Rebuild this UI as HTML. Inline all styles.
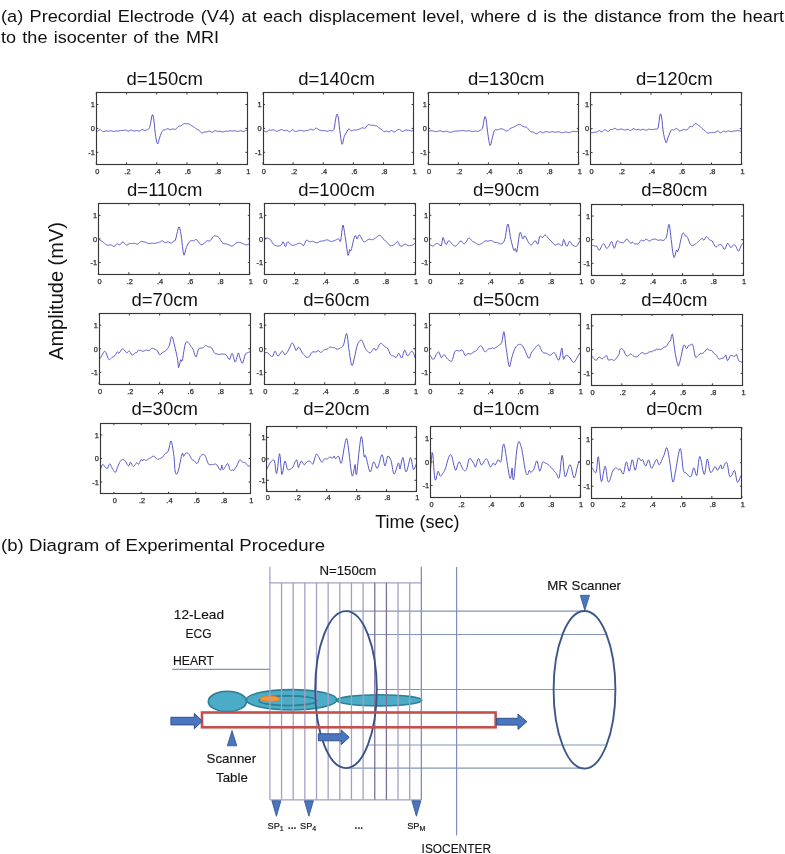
<!DOCTYPE html><html><head><meta charset="utf-8"><title>ECG figure</title><style>
html,body{margin:0;padding:0;background:#fff;}body{width:785px;height:854px;overflow:hidden;position:relative;}
svg{position:absolute;left:0;top:0;}
text{font-family:"Liberation Sans", Arial, Helvetica, sans-serif;}
.tk{font-size:7.4px;fill:#2e2e2e;stroke:#2e2e2e;stroke-width:0.25px;}
.ttl{font-size:18.5px;fill:#111;}
.cal{font-size:12.5px;fill:#262626;}
</style></head><body>
<svg width="785" height="854" viewBox="0 0 785 854">
<rect width="785" height="854" fill="#fff"/>
<text x="1" y="21.6" textLength="783" lengthAdjust="spacingAndGlyphs" style="font-size:16.7px;word-spacing:1.2px;fill:#111">(a) Precordial Electrode (V4) at each displacement level, where d is the distance from the heart</text>
<text x="1" y="42.6" textLength="218" lengthAdjust="spacingAndGlyphs" style="font-size:16.7px;word-spacing:1.2px;fill:#111">to the isocenter of the MRI</text>
<text transform="translate(63.3,291) rotate(-90)" text-anchor="middle" style="font-size:20px;fill:#111">Amplitude (mV)</text>
<text x="417.4" y="527.9" text-anchor="middle" style="font-size:18px;fill:#111">Time (sec)</text>
<text class="ttl" x="164.7" y="84.8" text-anchor="middle">d=150cm</text>
<clipPath id="c00"><rect x="96.30" y="92.50" width="151.10" height="71.80"/></clipPath>
<path clip-path="url(#c00)" d="M96.3,131.1 L96.7,131.2 L97.2,131.1 L97.9,130.8 L98.6,130.4 L99.3,129.9 L99.8,129.7 L100.3,129.7 L100.9,130.0 L101.5,130.5 L102.1,131.0 L102.7,131.5 L103.3,131.7 L103.9,131.7 L104.4,131.5 L105.0,131.2 L105.6,131.0 L106.2,130.9 L106.8,131.0 L107.4,131.1 L107.9,131.1 L108.4,131.1 L109.0,131.0 L109.5,131.0 L109.9,130.9 L110.5,130.8 L111.4,130.8 L111.9,130.9 L112.4,131.1 L113.0,131.3 L113.6,131.4 L114.2,131.4 L114.9,131.3 L115.6,131.1 L116.3,131.0 L117.0,130.9 L117.7,131.0 L118.3,131.0 L119.0,130.9 L119.5,130.8 L120.1,130.6 L120.7,130.5 L121.3,130.4 L121.9,130.4 L122.5,130.4 L123.0,130.4 L123.6,130.4 L124.2,130.3 L124.8,130.2 L125.4,130.1 L125.9,130.2 L126.5,130.3 L127.1,130.6 L127.8,130.8 L128.4,131.0 L129.0,130.9 L129.7,130.7 L130.3,130.4 L130.9,130.1 L131.6,130.1 L132.2,130.3 L132.8,130.6 L133.4,130.9 L134.1,131.0 L134.7,131.0 L135.4,130.8 L136.0,130.6 L136.6,130.5 L137.3,130.6 L137.9,130.9 L138.6,131.1 L139.2,131.1 L139.8,130.9 L140.5,130.5 L141.1,130.1 L141.6,129.7 L142.3,129.6 L143.0,129.7 L143.7,130.1 L144.3,130.4 L145.0,130.5 L145.6,130.4 L146.2,130.2 L146.7,129.9 L147.2,129.7 L147.7,129.5 L148.5,129.1 L149.0,128.6 L149.5,127.7 L149.9,126.3 L150.5,123.7 L151.1,120.2 L151.7,117.0 L152.2,115.0 L152.8,114.7 L153.2,116.1 L153.7,118.7 L154.2,122.9 L154.7,128.3 L155.2,133.2 L155.7,136.5 L156.3,139.9 L156.9,142.5 L157.5,143.9 L158.0,143.4 L158.6,141.6 L159.1,139.2 L159.8,137.1 L160.3,135.7 L160.9,134.2 L161.5,132.7 L162.2,131.5 L162.8,130.6 L163.4,130.1 L164.0,129.9 L164.6,129.9 L165.2,129.8 L165.8,129.5 L166.4,129.1 L167.0,128.8 L167.6,128.7 L168.2,128.8 L168.8,129.0 L169.4,129.4 L170.0,129.6 L170.6,129.7 L171.2,129.5 L171.9,129.2 L172.4,128.9 L173.0,128.9 L173.6,129.1 L174.2,129.3 L174.9,129.5 L175.3,129.4 L175.8,129.1 L176.3,128.7 L176.9,128.1 L177.4,127.4 L178.0,126.7 L178.7,126.3 L179.4,126.1 L179.9,126.0 L180.5,126.0 L181.2,125.7 L181.8,125.3 L182.5,124.7 L183.2,124.1 L183.9,123.7 L184.6,123.6 L185.2,123.6 L185.8,123.7 L186.4,123.8 L187.0,123.8 L187.7,123.8 L188.3,123.8 L188.8,123.9 L189.3,124.1 L189.8,124.5 L190.3,124.9 L190.9,125.3 L191.5,125.7 L192.0,126.0 L192.6,126.2 L193.2,126.6 L193.9,127.0 L194.5,127.5 L195.2,128.0 L195.8,128.5 L196.4,128.9 L197.0,129.1 L197.5,129.4 L198.3,129.7 L198.9,130.2 L199.6,130.9 L200.2,131.7 L200.8,132.4 L201.4,132.8 L202.1,132.9 L202.6,132.8 L203.1,132.6 L203.5,132.3 L204.0,132.1 L204.5,131.9 L205.0,131.8 L205.7,131.9 L206.6,131.9 L207.0,131.8 L207.5,131.6 L208.1,131.4 L208.6,131.2 L209.2,131.0 L209.8,131.1 L210.4,131.5 L211.1,131.9 L211.7,132.2 L212.4,132.2 L213.0,132.0 L213.7,131.5 L214.3,131.1 L214.9,130.8 L215.5,130.7 L216.1,130.9 L216.7,131.1 L217.2,131.3 L217.9,131.4 L218.6,131.4 L219.3,131.3 L219.9,131.2 L220.5,131.3 L221.1,131.5 L221.7,131.7 L222.3,131.8 L222.9,131.9 L223.5,131.8 L224.1,131.6 L224.7,131.4 L225.3,131.2 L225.9,131.2 L226.5,131.2 L227.1,131.3 L227.6,131.3 L228.2,131.2 L228.8,131.1 L229.4,130.9 L230.0,130.8 L230.5,130.8 L231.1,130.8 L231.7,130.9 L232.3,131.0 L232.9,131.0 L233.5,130.9 L234.2,130.8 L234.8,130.8 L235.4,130.9 L236.1,131.1 L236.7,131.3 L237.3,131.5 L238.0,131.5 L238.6,131.3 L239.2,131.0 L239.8,130.7 L240.4,130.6 L241.1,130.7 L241.7,131.0 L242.4,131.4 L243.1,131.6 L243.8,131.5 L244.4,131.2 L245.0,130.8 L245.6,130.4 L246.2,130.2 L246.7,130.2 L247.1,130.2 L247.4,130.2" fill="none" stroke="#5757c6" stroke-width="1.0" stroke-linejoin="round"/>
<rect x="96.50" y="92.50" width="151.00" height="72.00" fill="none" stroke="#363636" stroke-width="1.15"/>
<path d="M96.30,164.30v-2M96.30,92.50v2M126.52,164.30v-2M126.52,92.50v2M156.74,164.30v-2M156.74,92.50v2M186.96,164.30v-2M186.96,92.50v2M217.18,164.30v-2M217.18,92.50v2M247.40,164.30v-2M247.40,92.50v2M96.30,152.33h2M247.40,152.33h-2M96.30,128.40h2M247.40,128.40h-2M96.30,104.47h2M247.40,104.47h-2" stroke="#3a3a3a" stroke-width="1" fill="none"/>
<text class="tk" x="97.20" y="173.60" text-anchor="middle">0</text>
<text class="tk" x="127.42" y="173.60" text-anchor="middle">.2</text>
<text class="tk" x="157.64" y="173.60" text-anchor="middle">.4</text>
<text class="tk" x="187.86" y="173.60" text-anchor="middle">.6</text>
<text class="tk" x="218.08" y="173.60" text-anchor="middle">.8</text>
<text class="tk" x="248.30" y="173.60" text-anchor="middle">1</text>
<text class="tk" x="94.90" y="107.17" text-anchor="end">1</text>
<text class="tk" x="94.90" y="131.10" text-anchor="end">0</text>
<text class="tk" x="94.90" y="155.03" text-anchor="end">-1</text>
<text class="ttl" x="336.5" y="84.8" text-anchor="middle">d=140cm</text>
<clipPath id="c01"><rect x="263.00" y="92.50" width="150.60" height="71.80"/></clipPath>
<path clip-path="url(#c01)" d="M263.0,130.9 L263.3,130.8 L263.8,130.9 L264.4,131.1 L265.0,131.5 L265.6,131.8 L266.3,131.9 L266.9,131.6 L267.5,131.2 L268.1,130.7 L268.6,130.3 L269.2,130.1 L269.8,130.1 L270.3,130.2 L270.9,130.3 L271.5,130.2 L272.0,130.1 L272.6,129.9 L273.2,129.8 L273.7,129.8 L274.3,130.1 L274.9,130.5 L275.4,130.9 L276.0,131.2 L276.6,131.3 L277.1,131.2 L277.7,131.0 L278.2,130.7 L278.8,130.5 L279.4,130.3 L279.9,130.0 L280.5,129.8 L281.1,129.7 L281.6,129.6 L282.1,129.7 L282.6,129.8 L283.1,130.1 L283.7,130.4 L284.2,130.6 L284.9,130.7 L285.6,130.6 L286.1,130.4 L286.6,130.3 L287.1,130.4 L287.7,130.6 L288.3,131.1 L288.9,131.6 L289.5,131.8 L290.1,131.7 L290.7,131.2 L291.3,130.6 L291.9,130.0 L292.5,129.7 L293.1,129.9 L293.7,130.3 L294.4,130.9 L295.0,131.4 L295.6,131.6 L296.3,131.5 L296.9,131.3 L297.5,131.0 L298.1,130.8 L298.8,130.6 L299.4,130.5 L300.0,130.4 L300.6,130.4 L301.3,130.4 L301.9,130.6 L302.5,130.8 L303.2,131.0 L303.8,131.1 L304.4,131.0 L305.0,130.8 L305.7,130.6 L306.3,130.4 L306.9,130.4 L307.6,130.4 L308.2,130.4 L308.8,130.2 L309.4,129.8 L310.1,129.4 L310.7,129.2 L311.3,129.3 L311.9,129.5 L312.6,129.9 L313.2,130.0 L313.8,129.8 L314.5,129.4 L315.1,128.8 L315.7,128.3 L316.3,128.1 L316.9,128.3 L317.5,128.7 L318.1,129.2 L318.7,129.7 L319.3,130.0 L319.9,130.2 L320.5,130.3 L321.0,130.4 L321.6,130.6 L322.2,130.7 L322.7,130.7 L323.2,130.7 L323.9,130.6 L324.6,130.6 L325.2,130.6 L325.8,130.8 L326.4,131.1 L327.0,131.3 L327.6,131.3 L328.2,131.1 L328.7,130.9 L329.3,130.6 L330.0,130.5 L330.8,130.6 L331.5,130.9 L332.1,130.9 L332.8,130.7 L333.3,130.2 L333.8,129.5 L334.5,127.0 L334.9,123.9 L335.3,121.0 L335.8,118.3 L336.3,115.7 L336.8,114.3 L337.3,114.3 L337.8,115.5 L338.3,117.6 L338.8,121.2 L339.2,125.8 L339.8,130.6 L340.3,134.5 L340.9,138.8 L341.5,142.4 L342.1,144.3 L342.6,143.7 L343.1,141.5 L343.7,138.6 L344.3,136.3 L344.9,135.1 L345.5,134.0 L346.2,133.0 L346.8,132.0 L347.3,131.0 L348.1,129.4 L348.8,128.9 L349.3,129.1 L349.9,129.6 L350.5,130.2 L351.1,130.7 L351.9,130.8 L352.3,130.6 L352.8,130.4 L353.4,130.1 L353.9,130.0 L354.5,130.0 L355.1,130.0 L355.7,130.1 L356.4,130.0 L356.9,129.8 L357.5,129.6 L358.1,129.4 L358.7,129.3 L359.3,129.1 L359.9,128.9 L360.5,128.7 L361.2,128.3 L361.8,128.0 L362.4,127.8 L363.0,127.8 L363.6,128.1 L364.3,128.3 L365.0,128.2 L365.6,127.8 L366.2,127.0 L366.8,126.1 L367.4,125.3 L367.9,124.8 L368.4,124.6 L369.2,124.7 L369.8,124.9 L370.3,125.1 L370.8,125.2 L371.4,125.3 L371.9,125.2 L372.4,125.2 L372.9,125.2 L373.5,125.3 L374.1,125.4 L374.7,125.5 L375.3,125.7 L376.0,125.8 L376.5,125.9 L377.1,126.2 L377.7,126.7 L378.4,127.3 L379.1,127.8 L379.7,128.3 L380.3,128.7 L380.9,129.0 L381.5,129.4 L382.0,129.8 L382.7,130.5 L383.3,131.1 L383.8,131.6 L384.3,131.7 L385.0,131.6 L385.6,131.3 L386.2,131.0 L386.8,131.1 L387.5,131.4 L388.2,131.7 L388.8,131.9 L389.5,131.6 L390.1,131.2 L390.6,130.8 L391.2,130.6 L391.8,130.6 L392.3,130.8 L392.9,131.3 L393.5,131.7 L394.0,132.0 L394.6,132.0 L395.2,131.7 L395.7,131.2 L396.3,130.7 L396.8,130.2 L397.4,129.9 L398.0,129.6 L398.5,129.5 L399.1,129.5 L399.7,129.7 L400.2,130.0 L400.8,130.4 L401.4,130.9 L401.9,131.2 L402.5,131.4 L403.1,131.4 L403.7,131.0 L404.4,130.5 L405.1,130.2 L405.7,130.0 L406.4,130.1 L407.0,130.2 L407.6,130.2 L408.3,130.2 L408.9,130.2 L409.5,130.4 L410.0,130.6 L410.6,130.8 L411.2,130.9 L411.9,130.9 L412.6,130.7 L413.2,130.2 L413.6,129.7" fill="none" stroke="#5757c6" stroke-width="1.0" stroke-linejoin="round"/>
<rect x="263.50" y="92.50" width="150.00" height="72.00" fill="none" stroke="#363636" stroke-width="1.15"/>
<path d="M263.00,164.30v-2M263.00,92.50v2M293.12,164.30v-2M293.12,92.50v2M323.24,164.30v-2M323.24,92.50v2M353.36,164.30v-2M353.36,92.50v2M383.48,164.30v-2M383.48,92.50v2M413.60,164.30v-2M413.60,92.50v2M263.00,152.33h2M413.60,152.33h-2M263.00,128.40h2M413.60,128.40h-2M263.00,104.47h2M413.60,104.47h-2" stroke="#3a3a3a" stroke-width="1" fill="none"/>
<text class="tk" x="263.90" y="173.60" text-anchor="middle">0</text>
<text class="tk" x="294.02" y="173.60" text-anchor="middle">.2</text>
<text class="tk" x="324.14" y="173.60" text-anchor="middle">.4</text>
<text class="tk" x="354.26" y="173.60" text-anchor="middle">.6</text>
<text class="tk" x="384.38" y="173.60" text-anchor="middle">.8</text>
<text class="tk" x="414.50" y="173.60" text-anchor="middle">1</text>
<text class="tk" x="261.60" y="107.17" text-anchor="end">1</text>
<text class="tk" x="261.60" y="131.10" text-anchor="end">0</text>
<text class="tk" x="261.60" y="155.03" text-anchor="end">-1</text>
<text class="ttl" x="506.2" y="84.8" text-anchor="middle">d=130cm</text>
<clipPath id="c02"><rect x="428.20" y="92.50" width="150.60" height="71.80"/></clipPath>
<path clip-path="url(#c02)" d="M428.2,131.2 L428.6,131.1 L429.0,131.0 L429.6,130.9 L430.2,130.8 L430.8,130.8 L431.5,130.7 L432.2,130.8 L432.9,130.9 L433.7,131.1 L434.4,131.3 L435.1,131.5 L435.7,131.6 L436.4,131.6 L437.0,131.6 L437.6,131.4 L438.2,131.2 L438.9,131.0 L439.5,130.8 L440.1,130.8 L440.8,130.9 L441.4,131.1 L442.0,131.4 L442.6,131.6 L443.3,131.8 L443.9,131.8 L444.5,131.7 L445.1,131.5 L445.8,131.3 L446.4,131.2 L447.0,131.2 L447.7,131.4 L448.3,131.7 L448.9,132.0 L449.5,132.2 L450.2,132.3 L450.8,132.3 L451.4,132.2 L451.9,132.0 L452.5,131.8 L453.1,131.6 L453.7,131.4 L454.3,131.3 L454.8,131.2 L455.4,131.1 L456.0,131.0 L456.6,131.0 L457.2,131.0 L457.7,131.0 L458.3,131.0 L458.9,131.0 L459.6,130.9 L460.2,130.9 L460.8,130.7 L461.5,130.6 L462.1,130.4 L462.7,130.4 L463.3,130.4 L464.0,130.6 L464.6,130.8 L465.2,131.0 L465.8,131.1 L466.5,131.1 L467.1,131.1 L467.8,130.9 L468.4,130.8 L469.1,130.7 L469.7,130.8 L470.3,131.0 L471.0,131.2 L471.6,131.4 L472.2,131.5 L472.8,131.5 L473.4,131.4 L474.1,131.2 L474.7,131.1 L475.4,131.0 L476.0,131.1 L476.7,131.2 L477.3,131.4 L477.9,131.4 L478.4,131.3 L478.9,131.1 L479.4,130.8 L480.2,130.3 L480.9,130.0 L481.4,129.7 L481.9,129.2 L482.4,128.3 L483.1,125.9 L483.6,122.4 L484.2,119.1 L484.7,116.9 L485.2,116.5 L485.7,117.7 L486.2,119.9 L486.7,123.4 L487.1,128.0 L487.7,132.6 L488.2,136.2 L488.8,140.1 L489.4,143.5 L489.9,145.4 L490.5,145.2 L491.1,143.3 L491.6,140.7 L492.2,138.2 L492.8,136.1 L493.3,133.8 L493.8,131.8 L494.5,130.4 L495.0,129.8 L495.6,129.6 L496.2,129.7 L496.9,129.8 L497.5,129.9 L498.1,129.7 L498.7,129.5 L499.3,129.2 L499.9,129.0 L500.5,128.9 L501.1,128.8 L501.7,128.9 L502.3,129.0 L502.9,129.2 L503.5,129.4 L504.1,129.8 L504.6,130.2 L505.2,130.6 L505.8,131.0 L506.5,131.0 L507.0,130.9 L507.5,130.7 L508.0,130.4 L508.5,129.9 L509.0,129.5 L509.7,129.0 L510.3,128.5 L511.0,128.2 L511.6,127.9 L512.1,127.7 L512.8,127.5 L513.4,127.2 L514.1,126.9 L514.8,126.6 L515.5,126.2 L516.2,125.8 L516.8,125.4 L517.4,125.1 L518.0,124.8 L518.6,124.5 L519.3,124.4 L519.9,124.4 L520.4,124.6 L520.9,124.9 L521.4,125.3 L521.9,125.7 L522.5,126.2 L523.1,126.5 L523.6,126.7 L524.2,126.9 L524.8,126.9 L525.5,126.9 L526.1,127.0 L526.7,127.3 L527.4,127.9 L528.0,128.6 L528.6,129.5 L529.1,130.2 L529.8,131.0 L530.5,131.5 L531.1,131.8 L531.8,131.9 L532.4,131.9 L533.0,132.0 L533.6,132.3 L534.2,132.6 L534.7,133.0 L535.2,133.4 L535.7,133.7 L536.2,133.9 L536.8,133.8 L537.4,133.5 L538.1,132.9 L538.6,132.5 L539.1,132.1 L539.7,131.8 L540.3,131.8 L540.9,131.9 L541.5,132.2 L542.1,132.6 L542.7,132.8 L543.4,132.8 L544.0,132.6 L544.6,132.2 L545.1,131.9 L545.7,131.7 L546.3,131.5 L547.0,131.6 L547.6,131.8 L548.2,132.0 L548.8,132.2 L549.4,132.3 L549.9,132.2 L550.5,132.1 L551.1,131.9 L551.7,131.8 L552.3,131.7 L552.9,131.7 L553.5,131.9 L554.1,132.1 L554.7,132.2 L555.3,132.3 L555.9,132.2 L556.5,132.1 L557.1,131.9 L557.7,131.8 L558.3,131.7 L558.9,131.7 L559.5,131.9 L560.1,132.1 L560.6,132.3 L561.2,132.6 L561.8,132.7 L562.4,132.8 L563.1,132.7 L563.7,132.5 L564.3,132.3 L564.9,132.2 L565.5,132.0 L566.1,132.0 L566.8,132.1 L567.4,132.3 L568.1,132.5 L568.7,132.6 L569.4,132.6 L570.0,132.5 L570.6,132.2 L571.3,131.9 L571.9,131.6 L572.5,131.4 L573.2,131.3 L573.8,131.3 L574.5,131.5 L575.2,131.7 L575.8,131.7 L576.5,131.6 L577.0,131.4 L577.6,131.1 L578.1,130.8 L578.5,130.6 L578.8,130.5" fill="none" stroke="#5757c6" stroke-width="1.0" stroke-linejoin="round"/>
<rect x="428.50" y="92.50" width="150.00" height="72.00" fill="none" stroke="#363636" stroke-width="1.15"/>
<path d="M428.20,164.30v-2M428.20,92.50v2M458.32,164.30v-2M458.32,92.50v2M488.44,164.30v-2M488.44,92.50v2M518.56,164.30v-2M518.56,92.50v2M548.68,164.30v-2M548.68,92.50v2M578.80,164.30v-2M578.80,92.50v2M428.20,152.33h2M578.80,152.33h-2M428.20,128.40h2M578.80,128.40h-2M428.20,104.47h2M578.80,104.47h-2" stroke="#3a3a3a" stroke-width="1" fill="none"/>
<text class="tk" x="429.10" y="173.60" text-anchor="middle">0</text>
<text class="tk" x="459.22" y="173.60" text-anchor="middle">.2</text>
<text class="tk" x="489.34" y="173.60" text-anchor="middle">.4</text>
<text class="tk" x="519.46" y="173.60" text-anchor="middle">.6</text>
<text class="tk" x="549.58" y="173.60" text-anchor="middle">.8</text>
<text class="tk" x="579.70" y="173.60" text-anchor="middle">1</text>
<text class="tk" x="426.80" y="107.17" text-anchor="end">1</text>
<text class="tk" x="426.80" y="131.10" text-anchor="end">0</text>
<text class="tk" x="426.80" y="155.03" text-anchor="end">-1</text>
<text class="ttl" x="674.3" y="84.8" text-anchor="middle">d=120cm</text>
<clipPath id="c03"><rect x="590.60" y="92.80" width="151.10" height="71.70"/></clipPath>
<path clip-path="url(#c03)" d="M590.6,132.8 L591.0,132.8 L591.5,132.7 L592.2,132.7 L592.9,132.6 L593.6,132.4 L594.1,132.3 L594.7,132.3 L595.3,132.2 L595.9,132.2 L596.5,132.2 L597.1,131.9 L597.7,131.5 L598.2,131.1 L598.9,130.7 L599.5,130.6 L600.0,130.8 L600.6,131.3 L601.2,131.7 L601.8,131.9 L602.3,131.8 L602.9,131.3 L603.5,130.6 L604.2,129.9 L604.7,129.7 L605.3,129.7 L605.9,130.1 L606.5,130.6 L607.1,131.1 L607.7,131.4 L608.2,131.4 L608.7,131.2 L609.3,130.7 L609.8,130.2 L610.2,129.7 L610.8,129.4 L611.8,129.6 L612.2,129.6 L612.7,129.4 L613.2,129.1 L613.8,128.7 L614.4,128.4 L615.0,128.3 L615.7,128.6 L616.3,129.1 L617.0,129.5 L617.7,129.8 L618.4,129.8 L619.0,129.6 L619.6,129.3 L620.2,129.1 L620.8,129.0 L621.5,129.1 L622.2,129.2 L622.8,129.4 L623.5,129.6 L624.1,129.9 L624.7,130.0 L625.3,130.0 L625.9,129.8 L626.5,129.6 L627.1,129.3 L627.8,129.2 L628.4,129.4 L629.0,129.9 L629.6,130.3 L630.3,130.6 L630.9,130.5 L631.5,130.1 L632.2,129.4 L632.8,128.9 L633.4,128.6 L634.0,128.8 L634.7,129.2 L635.3,129.6 L635.9,129.8 L636.6,129.8 L637.2,129.6 L637.8,129.4 L638.4,129.3 L639.1,129.5 L639.7,129.8 L640.3,130.0 L641.0,130.0 L641.6,129.8 L642.2,129.5 L642.9,129.3 L643.5,129.3 L644.1,129.5 L644.7,129.8 L645.3,130.1 L645.9,130.2 L646.5,130.1 L647.1,129.9 L647.7,129.6 L648.2,129.3 L648.8,129.3 L649.4,129.3 L650.0,129.4 L650.5,129.5 L651.0,129.5 L651.7,129.6 L652.4,129.6 L653.1,129.6 L653.8,129.4 L654.4,129.3 L655.1,129.1 L655.7,129.0 L656.2,129.0 L656.7,129.1 L657.1,129.2 L657.9,128.6 L658.3,127.0 L658.6,124.8 L659.1,121.4 L659.6,117.2 L660.1,114.4 L660.9,114.1 L661.6,117.0 L662.1,120.8 L662.5,125.8 L663.1,131.0 L663.7,134.2 L664.3,137.3 L665.0,139.9 L665.6,141.8 L666.2,142.8 L666.7,142.4 L667.1,140.3 L667.7,138.1 L668.2,137.0 L668.8,135.6 L669.4,134.0 L670.1,132.3 L670.7,130.9 L671.3,130.1 L671.9,129.8 L672.5,129.8 L673.1,130.0 L673.7,130.0 L674.3,129.8 L674.9,129.3 L675.5,128.8 L676.1,128.5 L676.7,128.4 L677.3,128.8 L677.9,129.4 L678.4,130.1 L679.0,130.7 L679.7,130.9 L680.2,130.8 L680.8,130.7 L681.3,130.5 L681.9,130.2 L682.5,129.9 L683.1,129.7 L683.7,129.5 L684.3,129.4 L684.8,129.5 L685.3,129.7 L685.8,129.9 L686.4,130.0 L686.9,129.9 L687.5,129.5 L688.1,128.7 L688.8,127.8 L689.3,127.1 L689.9,126.7 L690.6,126.5 L691.2,126.6 L691.9,126.7 L692.6,126.4 L693.3,125.6 L694.0,124.7 L694.6,124.0 L695.3,123.6 L695.8,123.6 L696.4,123.9 L697.1,124.3 L697.7,124.7 L698.2,125.1 L698.7,125.3 L699.2,125.7 L699.7,126.1 L700.3,126.6 L700.9,127.2 L701.5,127.8 L702.0,128.4 L702.7,129.0 L703.3,129.4 L703.9,129.8 L704.6,130.4 L705.2,131.0 L705.8,131.6 L706.4,132.2 L706.9,132.7 L707.6,132.9 L708.2,133.0 L708.8,133.0 L709.3,132.9 L709.8,132.8 L710.4,132.7 L710.9,132.6 L711.5,132.6 L712.1,132.5 L712.7,132.5 L713.3,132.4 L714.0,132.4 L714.6,132.4 L715.3,132.2 L716.0,131.8 L716.6,131.5 L717.1,131.1 L717.8,131.0 L718.4,131.2 L719.0,131.7 L719.7,132.3 L720.3,132.8 L720.9,132.8 L721.5,132.5 L722.1,132.1 L722.7,131.5 L723.3,131.2 L723.9,131.2 L724.4,131.4 L725.0,131.7 L725.5,131.9 L726.0,131.9 L726.6,131.7 L727.2,131.4 L727.7,131.1 L728.3,130.9 L728.9,131.0 L729.4,131.2 L730.0,131.4 L730.6,131.6 L731.1,131.7 L731.8,131.6 L732.4,131.4 L733.0,131.2 L733.6,131.1 L734.3,131.0 L734.9,131.0 L735.7,130.9 L736.2,130.8 L736.9,130.6 L737.5,130.5 L738.3,130.6 L739.0,130.7 L739.6,130.9 L740.3,131.1 L740.9,131.3 L741.3,131.4 L741.7,131.5" fill="none" stroke="#5757c6" stroke-width="1.0" stroke-linejoin="round"/>
<rect x="590.50" y="92.50" width="151.00" height="72.00" fill="none" stroke="#363636" stroke-width="1.15"/>
<path d="M590.60,164.50v-2M590.60,92.80v2M620.82,164.50v-2M620.82,92.80v2M651.04,164.50v-2M651.04,92.80v2M681.26,164.50v-2M681.26,92.80v2M711.48,164.50v-2M711.48,92.80v2M741.70,164.50v-2M741.70,92.80v2M590.60,152.55h2M741.70,152.55h-2M590.60,128.65h2M741.70,128.65h-2M590.60,104.75h2M741.70,104.75h-2" stroke="#3a3a3a" stroke-width="1" fill="none"/>
<text class="tk" x="591.50" y="173.80" text-anchor="middle">0</text>
<text class="tk" x="621.72" y="173.80" text-anchor="middle">.2</text>
<text class="tk" x="651.94" y="173.80" text-anchor="middle">.4</text>
<text class="tk" x="682.16" y="173.80" text-anchor="middle">.6</text>
<text class="tk" x="712.38" y="173.80" text-anchor="middle">.8</text>
<text class="tk" x="742.60" y="173.80" text-anchor="middle">1</text>
<text class="tk" x="589.20" y="107.45" text-anchor="end">1</text>
<text class="tk" x="589.20" y="131.35" text-anchor="end">0</text>
<text class="tk" x="589.20" y="155.25" text-anchor="end">-1</text>
<text class="ttl" x="164.7" y="195.6" text-anchor="middle">d=110cm</text>
<clipPath id="c10"><rect x="98.60" y="203.60" width="151.20" height="70.60"/></clipPath>
<path clip-path="url(#c10)" d="M98.6,238.9 L98.9,239.2 L99.4,239.6 L100.0,240.1 L100.6,240.5 L101.2,240.9 L101.9,241.3 L102.5,241.7 L103.1,242.1 L103.7,242.6 L104.2,243.1 L104.8,243.6 L105.3,244.0 L105.9,244.5 L106.4,244.8 L107.0,245.1 L107.7,245.2 L108.2,245.2 L108.8,245.1 L109.5,244.9 L110.1,244.9 L110.8,244.9 L111.4,245.1 L112.1,245.5 L112.7,245.9 L113.2,246.2 L113.7,246.4 L114.5,246.3 L115.1,245.8 L115.7,245.1 L116.2,244.5 L116.7,244.0 L117.3,243.9 L118.0,244.1 L118.6,244.5 L119.2,244.8 L119.8,244.9 L120.3,244.5 L120.9,243.8 L121.5,243.0 L122.1,242.3 L122.8,242.0 L123.3,242.2 L123.8,242.6 L124.4,243.3 L125.0,244.0 L125.6,244.6 L126.2,245.0 L126.8,245.1 L127.3,244.9 L127.9,244.5 L128.5,244.1 L129.0,243.8 L129.6,243.6 L130.2,243.5 L130.7,243.5 L131.3,243.6 L131.9,243.6 L132.4,243.5 L133.0,243.4 L133.6,243.3 L134.1,243.2 L134.7,243.3 L135.3,243.5 L135.8,243.8 L136.4,244.1 L137.0,244.2 L137.5,244.2 L138.1,243.9 L138.7,243.4 L139.2,242.8 L139.8,242.2 L140.4,241.8 L140.9,241.5 L141.6,241.4 L142.2,241.4 L142.8,241.6 L143.4,241.8 L144.1,241.9 L144.7,242.0 L145.5,242.2 L146.0,242.5 L146.6,242.8 L147.2,243.1 L147.9,243.5 L148.5,243.7 L149.1,243.7 L149.8,243.6 L150.4,243.4 L151.0,243.3 L151.5,243.2 L152.2,243.2 L152.8,243.3 L153.4,243.4 L154.0,243.4 L154.5,243.4 L155.1,243.2 L155.6,243.1 L156.1,243.0 L156.7,242.9 L157.3,242.8 L157.8,242.6 L158.4,242.5 L159.1,242.4 L159.6,242.1 L160.3,241.8 L160.9,241.3 L161.6,240.9 L162.3,240.8 L163.0,241.1 L163.6,241.6 L164.2,242.0 L164.7,242.4 L165.3,242.6 L165.8,242.6 L166.3,242.5 L166.9,242.2 L167.5,241.9 L168.2,241.9 L168.7,242.0 L169.3,242.3 L170.0,242.8 L170.7,243.0 L171.4,243.0 L172.0,242.6 L172.7,242.0 L173.3,241.5 L173.8,241.2 L174.2,241.0 L175.0,240.8 L175.3,240.3 L175.7,238.9 L176.2,237.1 L176.8,234.3 L177.5,231.3 L178.2,228.5 L178.7,227.0 L179.4,227.1 L180.0,228.9 L180.5,231.6 L181.0,234.4 L181.6,238.3 L182.0,242.7 L182.5,246.6 L183.2,252.3 L184.0,255.2 L184.5,254.3 L185.1,252.1 L185.7,249.6 L186.3,247.6 L186.8,246.4 L187.4,245.1 L188.0,243.9 L188.6,242.8 L189.3,241.8 L189.8,241.4 L190.4,241.0 L191.0,240.8 L191.6,240.7 L192.2,240.7 L192.8,240.7 L193.4,240.7 L193.9,240.6 L194.5,240.3 L195.1,239.9 L195.6,239.6 L196.2,239.5 L196.9,239.9 L197.4,240.5 L197.9,241.3 L198.5,242.1 L199.1,243.0 L199.6,243.7 L200.2,244.2 L200.8,244.5 L201.4,244.7 L202.1,244.6 L202.7,244.4 L203.4,244.0 L204.0,243.5 L204.7,242.8 L205.3,242.1 L206.0,241.5 L206.5,241.1 L207.1,240.9 L207.7,240.8 L208.2,240.9 L208.8,241.0 L209.4,241.0 L209.9,240.8 L210.5,240.4 L211.1,239.8 L211.6,238.9 L212.2,238.0 L212.8,237.1 L213.3,236.5 L213.9,236.0 L214.5,235.8 L215.0,235.8 L215.6,235.9 L216.2,236.0 L216.7,236.1 L217.3,236.3 L217.9,236.6 L218.4,237.0 L219.0,237.6 L219.6,238.3 L220.2,239.4 L220.9,240.6 L221.5,241.7 L222.2,242.6 L222.8,243.2 L223.4,243.5 L224.1,243.7 L224.7,243.7 L225.3,243.8 L225.9,243.9 L226.5,244.0 L227.0,244.2 L227.6,244.4 L228.1,244.6 L228.6,244.7 L229.3,245.0 L230.0,245.3 L230.5,245.7 L231.1,245.9 L231.7,246.1 L232.2,246.0 L232.7,245.8 L233.3,245.4 L233.9,244.9 L234.7,244.3 L235.2,244.0 L235.7,243.5 L236.3,243.1 L237.0,242.7 L237.6,242.5 L238.3,242.4 L238.9,242.4 L239.6,242.5 L240.2,242.7 L240.7,242.8 L241.4,243.0 L242.0,243.2 L242.5,243.4 L243.1,243.6 L243.6,243.9 L244.2,244.1 L244.7,244.4 L245.3,244.6 L245.9,244.8 L246.5,244.9 L247.2,244.8 L247.8,244.6 L248.4,244.3 L249.0,243.9 L249.5,243.5 L249.8,243.3" fill="none" stroke="#5757c6" stroke-width="1.0" stroke-linejoin="round"/>
<rect x="98.50" y="203.50" width="151.00" height="71.00" fill="none" stroke="#363636" stroke-width="1.15"/>
<path d="M98.60,274.20v-2M98.60,203.60v2M128.84,274.20v-2M128.84,203.60v2M159.08,274.20v-2M159.08,203.60v2M189.32,274.20v-2M189.32,203.60v2M219.56,274.20v-2M219.56,203.60v2M249.80,274.20v-2M249.80,203.60v2M98.60,262.43h2M249.80,262.43h-2M98.60,238.90h2M249.80,238.90h-2M98.60,215.37h2M249.80,215.37h-2" stroke="#3a3a3a" stroke-width="1" fill="none"/>
<text class="tk" x="99.50" y="283.50" text-anchor="middle">0</text>
<text class="tk" x="129.74" y="283.50" text-anchor="middle">.2</text>
<text class="tk" x="159.98" y="283.50" text-anchor="middle">.4</text>
<text class="tk" x="190.22" y="283.50" text-anchor="middle">.6</text>
<text class="tk" x="220.46" y="283.50" text-anchor="middle">.8</text>
<text class="tk" x="250.70" y="283.50" text-anchor="middle">1</text>
<text class="tk" x="97.20" y="218.07" text-anchor="end">1</text>
<text class="tk" x="97.20" y="241.60" text-anchor="end">0</text>
<text class="tk" x="97.20" y="265.13" text-anchor="end">-1</text>
<text class="ttl" x="336.5" y="195.6" text-anchor="middle">d=100cm</text>
<clipPath id="c11"><rect x="264.40" y="203.60" width="150.80" height="70.60"/></clipPath>
<path clip-path="url(#c11)" d="M264.4,238.6 L264.8,238.5 L265.4,238.3 L266.1,238.2 L266.8,238.1 L267.4,238.1 L268.0,238.2 L268.6,238.5 L269.2,238.8 L269.8,239.2 L270.4,239.7 L271.0,240.4 L271.6,241.3 L272.1,242.3 L272.7,243.3 L273.4,244.2 L274.0,244.6 L274.5,245.0 L275.1,245.3 L275.7,245.6 L276.3,245.8 L276.9,246.0 L277.5,246.0 L278.0,246.0 L278.7,246.0 L279.3,245.9 L279.9,245.8 L280.5,245.7 L281.0,245.4 L281.6,244.6 L282.2,243.3 L282.7,242.1 L283.2,241.8 L283.8,242.8 L284.4,244.5 L284.9,246.1 L285.5,246.7 L286.0,245.9 L286.5,244.3 L287.0,242.6 L287.8,241.8 L288.2,242.0 L288.8,242.4 L289.3,243.0 L290.0,243.8 L290.6,244.4 L291.2,244.9 L291.9,245.2 L292.5,245.3 L293.1,245.4 L293.7,245.3 L294.2,245.2 L294.8,245.0 L295.4,244.8 L295.9,244.6 L296.5,244.3 L297.0,244.0 L297.6,243.7 L298.2,243.5 L298.8,243.3 L299.4,243.2 L300.0,243.3 L300.6,243.5 L301.2,243.8 L301.7,244.1 L302.1,244.3 L302.8,245.0 L303.1,245.8 L303.6,245.7 L304.1,244.8 L304.7,243.4 L305.3,241.9 L306.0,240.7 L306.6,240.0 L307.2,240.0 L307.8,240.5 L308.3,241.1 L308.9,241.6 L309.6,241.8 L310.1,241.8 L310.7,241.6 L311.2,241.5 L311.8,241.3 L312.4,241.3 L313.0,241.4 L313.6,241.7 L314.2,241.9 L314.8,242.2 L315.4,242.5 L316.0,242.7 L316.6,242.7 L317.3,242.6 L318.0,242.4 L318.7,242.0 L319.2,241.7 L319.8,241.5 L320.3,241.3 L320.9,241.1 L321.5,241.1 L322.1,241.0 L322.8,241.0 L323.4,240.9 L324.0,240.8 L324.7,240.6 L325.3,240.3 L325.9,240.1 L326.5,239.9 L327.2,239.9 L327.8,240.0 L328.5,240.3 L329.1,240.6 L329.8,241.0 L330.4,241.3 L331.1,241.5 L331.7,241.5 L332.3,241.4 L332.9,241.2 L333.6,240.9 L334.3,240.6 L335.0,240.3 L335.6,240.1 L336.2,239.8 L336.8,239.5 L337.4,239.2 L337.8,238.9 L338.3,238.8 L339.1,239.4 L339.7,240.7 L340.1,241.6 L340.6,241.1 L341.1,237.8 L341.7,232.5 L342.3,227.6 L342.8,225.0 L343.4,225.8 L343.9,228.6 L344.5,232.5 L345.1,236.5 L345.7,240.1 L346.3,244.6 L347.0,249.2 L347.6,253.2 L348.1,255.5 L348.9,253.7 L349.6,249.6 L350.0,250.0 L350.4,251.1 L351.1,250.4 L351.6,248.5 L352.3,245.7 L352.9,242.7 L353.7,239.7 L354.3,237.3 L354.9,235.8 L355.6,235.6 L356.1,236.8 L356.6,238.4 L357.1,239.1 L357.7,238.3 L358.1,236.8 L358.7,235.4 L359.4,234.9 L359.9,235.2 L360.3,235.9 L360.9,236.9 L361.4,238.0 L362.0,239.2 L362.6,240.3 L363.3,241.3 L363.9,241.8 L364.5,241.9 L365.1,241.8 L365.7,241.5 L366.3,241.0 L366.9,240.4 L367.6,239.8 L368.2,239.5 L368.8,239.2 L369.4,239.2 L370.0,239.3 L370.6,239.5 L371.2,239.7 L371.8,239.7 L372.3,239.7 L372.9,239.5 L373.4,239.3 L373.9,239.0 L374.5,238.7 L375.0,238.3 L375.6,237.9 L376.2,237.4 L376.7,237.0 L377.3,236.5 L377.9,236.0 L378.4,235.6 L379.0,235.3 L379.6,235.3 L380.1,235.4 L380.7,235.8 L381.3,236.4 L381.8,237.1 L382.4,237.9 L383.0,238.7 L383.5,239.4 L384.2,239.9 L384.8,240.4 L385.5,240.9 L386.1,241.4 L386.8,242.0 L387.4,242.7 L388.1,243.5 L388.6,244.2 L389.2,244.9 L389.8,245.4 L390.3,245.7 L390.9,245.8 L391.4,245.7 L392.0,245.6 L392.6,245.4 L393.2,245.2 L393.7,244.8 L394.3,244.4 L394.9,243.9 L395.5,243.3 L396.1,242.7 L396.6,242.0 L397.1,241.6 L397.8,241.7 L398.3,242.5 L398.9,243.7 L399.4,244.9 L400.1,245.8 L400.6,246.1 L401.1,246.2 L401.7,246.2 L402.3,246.0 L402.9,245.6 L403.5,245.1 L404.1,244.6 L404.6,244.3 L405.3,244.2 L405.9,244.3 L406.5,244.7 L407.1,245.1 L407.8,245.4 L408.4,245.7 L409.2,245.7 L409.7,245.6 L410.4,245.5 L411.1,245.3 L411.8,245.2 L412.5,245.1 L413.1,244.8 L413.8,244.3 L414.4,243.8 L414.8,243.4 L415.2,243.0" fill="none" stroke="#5757c6" stroke-width="1.0" stroke-linejoin="round"/>
<rect x="264.50" y="203.50" width="151.00" height="71.00" fill="none" stroke="#363636" stroke-width="1.15"/>
<path d="M264.40,274.20v-2M264.40,203.60v2M294.56,274.20v-2M294.56,203.60v2M324.72,274.20v-2M324.72,203.60v2M354.88,274.20v-2M354.88,203.60v2M385.04,274.20v-2M385.04,203.60v2M415.20,274.20v-2M415.20,203.60v2M264.40,262.43h2M415.20,262.43h-2M264.40,238.90h2M415.20,238.90h-2M264.40,215.37h2M415.20,215.37h-2" stroke="#3a3a3a" stroke-width="1" fill="none"/>
<text class="tk" x="265.30" y="283.50" text-anchor="middle">0</text>
<text class="tk" x="295.46" y="283.50" text-anchor="middle">.2</text>
<text class="tk" x="325.62" y="283.50" text-anchor="middle">.4</text>
<text class="tk" x="355.78" y="283.50" text-anchor="middle">.6</text>
<text class="tk" x="385.94" y="283.50" text-anchor="middle">.8</text>
<text class="tk" x="416.10" y="283.50" text-anchor="middle">1</text>
<text class="tk" x="263.00" y="218.07" text-anchor="end">1</text>
<text class="tk" x="263.00" y="241.60" text-anchor="end">0</text>
<text class="tk" x="263.00" y="265.13" text-anchor="end">-1</text>
<text class="ttl" x="506.2" y="195.6" text-anchor="middle">d=90cm</text>
<clipPath id="c12"><rect x="429.40" y="203.50" width="150.90" height="70.70"/></clipPath>
<path clip-path="url(#c12)" d="M429.4,244.7 L429.8,244.8 L430.3,244.9 L431.0,245.3 L431.7,245.7 L432.4,246.0 L432.9,246.0 L433.5,245.8 L434.1,245.3 L434.7,244.8 L435.3,244.2 L435.9,243.7 L436.4,243.4 L436.9,243.4 L437.7,243.6 L438.3,244.0 L438.9,244.5 L439.5,244.8 L440.0,245.0 L440.8,246.0 L441.5,245.8 L442.1,241.2 L443.0,237.5 L443.5,238.2 L444.1,239.9 L444.7,241.9 L445.4,243.7 L446.0,244.5 L446.6,244.2 L447.1,243.2 L447.7,241.9 L448.3,240.9 L449.0,240.7 L449.5,241.0 L450.0,241.5 L450.5,242.1 L451.1,242.7 L451.7,243.4 L452.3,244.0 L452.9,244.7 L453.5,245.3 L454.1,245.7 L454.7,246.0 L455.4,246.1 L456.1,245.8 L456.8,245.3 L457.4,244.5 L458.1,243.7 L458.6,243.0 L459.2,242.4 L459.6,242.1 L460.5,241.0 L461.1,240.8 L461.6,241.2 L462.1,241.9 L462.7,242.7 L463.4,243.4 L464.1,243.8 L464.6,243.7 L465.1,243.3 L465.6,242.7 L466.2,241.8 L466.8,240.8 L467.4,239.7 L468.0,238.7 L468.6,238.1 L469.2,238.0 L469.8,238.3 L470.4,239.0 L471.0,239.7 L471.7,240.6 L472.3,241.2 L472.9,241.7 L473.5,242.0 L474.1,242.2 L474.7,242.3 L475.3,242.6 L475.9,243.0 L476.4,243.5 L476.9,244.0 L477.5,244.3 L478.0,244.6 L478.6,244.7 L479.2,244.6 L479.7,244.4 L480.3,244.2 L480.8,243.9 L481.4,243.7 L482.0,243.4 L482.6,242.9 L483.3,242.4 L483.9,241.8 L484.6,241.3 L485.2,241.0 L485.8,240.8 L486.4,240.9 L487.0,241.0 L487.7,241.1 L488.3,241.1 L489.0,241.0 L489.7,240.8 L490.3,240.5 L491.0,240.5 L491.6,240.6 L492.2,240.9 L492.8,241.3 L493.5,241.8 L494.1,242.1 L494.8,242.3 L495.4,242.4 L496.1,242.4 L496.7,242.4 L497.3,242.6 L497.8,242.8 L498.3,243.1 L498.8,243.3 L499.6,243.7 L500.2,243.9 L500.8,244.0 L501.3,243.9 L501.8,243.6 L502.4,243.2 L503.0,242.8 L503.6,242.1 L504.2,241.0 L504.8,239.3 L505.5,236.3 L506.1,232.3 L506.7,228.2 L507.3,225.1 L507.9,224.0 L508.5,225.2 L509.1,228.3 L509.7,232.2 L510.3,236.3 L510.9,239.5 L511.5,242.2 L512.2,244.8 L512.8,247.1 L513.4,249.1 L513.9,250.4 L514.8,250.0 L515.4,248.5 L515.9,250.1 L516.3,252.1 L516.9,251.6 L517.4,248.7 L518.0,244.1 L518.7,239.1 L519.3,234.9 L519.9,232.6 L520.6,232.6 L521.2,234.1 L521.8,236.1 L522.4,237.9 L523.0,238.8 L523.5,238.3 L523.9,237.0 L524.5,235.9 L525.2,236.0 L525.7,236.7 L526.2,237.8 L526.8,239.0 L527.4,240.4 L528.0,241.6 L528.7,242.7 L529.3,243.6 L529.9,244.4 L530.5,244.8 L531.2,245.0 L531.9,244.6 L532.6,243.8 L533.2,242.8 L533.9,241.8 L534.5,241.0 L535.0,240.7 L535.8,241.1 L536.4,242.2 L537.0,243.3 L537.6,244.1 L538.0,244.1 L538.6,242.1 L539.0,239.0 L539.6,236.6 L540.1,236.2 L540.7,236.2 L541.3,236.7 L541.9,237.2 L542.6,237.5 L543.1,237.2 L543.5,236.5 L544.0,235.7 L544.6,235.2 L545.6,235.2 L546.0,235.5 L546.5,236.0 L547.1,236.6 L547.7,237.4 L548.3,238.2 L549.0,239.0 L549.7,239.7 L550.4,240.3 L551.1,241.0 L551.7,241.7 L552.4,242.5 L553.0,243.3 L553.6,244.0 L554.2,244.6 L554.6,244.9 L555.4,245.1 L556.1,244.9 L556.7,244.6 L557.3,244.3 L557.8,244.0 L558.3,243.9 L558.7,243.8 L559.2,244.0 L559.9,244.5 L560.6,245.1 L561.2,245.6 L561.7,245.8 L562.2,245.6 L562.8,243.6 L563.1,240.8 L563.7,239.4 L564.2,240.2 L564.8,241.9 L565.4,243.9 L566.1,245.6 L566.7,246.3 L567.3,245.9 L567.9,244.7 L568.5,243.2 L569.1,241.9 L569.7,241.3 L570.3,241.6 L570.9,242.6 L571.4,243.7 L572.1,244.7 L572.8,245.2 L573.3,245.4 L573.8,245.7 L574.4,245.9 L575.0,246.2 L575.6,246.4 L576.2,246.3 L576.8,246.0 L577.3,245.5 L578.0,244.3 L578.7,242.9 L579.4,241.6 L579.9,240.8 L580.3,240.3" fill="none" stroke="#5757c6" stroke-width="1.0" stroke-linejoin="round"/>
<rect x="429.50" y="203.50" width="151.00" height="71.00" fill="none" stroke="#363636" stroke-width="1.15"/>
<path d="M429.40,274.20v-2M429.40,203.50v2M459.58,274.20v-2M459.58,203.50v2M489.76,274.20v-2M489.76,203.50v2M519.94,274.20v-2M519.94,203.50v2M550.12,274.20v-2M550.12,203.50v2M580.30,274.20v-2M580.30,203.50v2M429.40,262.42h2M580.30,262.42h-2M429.40,238.85h2M580.30,238.85h-2M429.40,215.28h2M580.30,215.28h-2" stroke="#3a3a3a" stroke-width="1" fill="none"/>
<text class="tk" x="430.30" y="283.50" text-anchor="middle">0</text>
<text class="tk" x="460.48" y="283.50" text-anchor="middle">.2</text>
<text class="tk" x="490.66" y="283.50" text-anchor="middle">.4</text>
<text class="tk" x="520.84" y="283.50" text-anchor="middle">.6</text>
<text class="tk" x="551.02" y="283.50" text-anchor="middle">.8</text>
<text class="tk" x="581.20" y="283.50" text-anchor="middle">1</text>
<text class="tk" x="428.00" y="217.98" text-anchor="end">1</text>
<text class="tk" x="428.00" y="241.55" text-anchor="end">0</text>
<text class="tk" x="428.00" y="265.12" text-anchor="end">-1</text>
<text class="ttl" x="674.3" y="195.6" text-anchor="middle">d=80cm</text>
<clipPath id="c13"><rect x="591.60" y="204.20" width="151.60" height="70.90"/></clipPath>
<path clip-path="url(#c13)" d="M591.6,246.3 L592.0,245.8 L592.5,245.4 L593.0,245.3 L593.7,245.6 L594.4,246.0 L595.0,246.2 L595.6,246.1 L596.1,245.9 L596.8,246.2 L597.4,247.3 L597.9,248.6 L598.5,249.8 L599.2,250.3 L599.7,249.9 L600.2,249.1 L600.8,247.8 L601.5,246.5 L602.1,245.3 L602.7,244.4 L603.2,243.9 L603.7,243.7 L604.4,244.3 L605.0,245.5 L605.5,246.8 L606.1,247.9 L606.8,248.3 L607.3,248.1 L607.8,247.7 L608.4,247.2 L609.0,246.3 L609.6,245.1 L610.2,243.6 L610.8,242.3 L611.3,241.6 L612.0,241.9 L612.6,243.6 L613.2,245.8 L613.8,247.6 L614.3,248.3 L614.9,247.5 L615.5,245.6 L616.1,243.4 L616.7,241.5 L617.4,240.7 L617.9,240.9 L618.4,241.3 L619.0,241.8 L619.6,242.1 L620.1,242.3 L620.7,242.3 L621.3,242.4 L621.9,242.5 L622.5,242.7 L623.1,242.8 L623.6,242.7 L624.2,242.2 L624.8,241.4 L625.3,240.4 L625.9,239.5 L626.5,239.0 L627.1,239.1 L627.7,239.7 L628.3,240.6 L628.9,241.5 L629.5,242.3 L630.1,242.8 L630.6,243.1 L631.0,243.3 L631.7,243.0 L632.0,242.3 L632.5,242.1 L633.0,242.4 L633.5,243.0 L634.1,243.6 L634.7,243.9 L635.6,243.9 L636.1,243.9 L636.6,243.9 L637.2,244.1 L637.8,244.0 L638.5,243.6 L639.2,242.7 L639.8,241.7 L640.5,240.7 L641.1,240.2 L641.6,240.1 L642.4,240.5 L643.1,240.8 L643.8,240.9 L644.4,240.5 L645.0,239.9 L645.6,239.4 L646.2,239.1 L646.9,239.2 L647.4,239.7 L648.0,240.4 L648.5,240.9 L649.2,241.1 L649.8,241.0 L650.4,240.6 L651.0,240.2 L651.6,239.8 L652.3,239.6 L653.0,239.4 L653.8,239.2 L654.3,239.1 L654.9,239.0 L655.5,239.1 L656.1,239.4 L656.7,239.7 L657.3,240.0 L658.0,240.2 L658.6,240.3 L659.2,240.1 L659.8,240.0 L660.4,239.9 L661.1,240.0 L661.7,240.2 L662.4,240.4 L663.0,240.4 L663.7,240.3 L664.3,239.9 L664.9,239.5 L665.4,239.0 L665.9,238.4 L666.7,236.0 L667.4,232.5 L667.9,228.6 L668.4,225.6 L668.9,224.3 L669.6,226.0 L670.1,230.1 L670.7,235.1 L671.2,239.5 L671.8,244.1 L672.2,248.2 L672.7,251.7 L673.2,254.6 L673.7,256.8 L674.2,257.5 L674.8,256.3 L675.4,254.0 L676.0,251.6 L676.5,250.0 L677.1,251.4 L678.0,251.5 L678.4,250.1 L679.0,248.1 L679.6,245.6 L680.2,242.7 L680.8,239.8 L681.5,237.1 L682.0,234.9 L682.6,233.5 L683.3,232.8 L684.0,233.4 L684.6,234.5 L685.1,235.6 L685.6,236.3 L686.1,236.2 L686.4,236.0 L687.1,236.7 L687.5,237.4 L688.0,238.5 L688.5,239.9 L689.1,241.5 L689.7,243.0 L690.3,244.3 L691.0,245.1 L691.7,245.5 L692.2,245.6 L692.8,245.4 L693.4,245.2 L694.0,245.0 L694.7,244.6 L695.3,244.1 L696.0,243.6 L696.6,243.0 L697.2,242.5 L697.7,242.1 L698.4,241.6 L699.0,241.0 L699.7,240.4 L700.3,239.8 L700.9,239.2 L701.4,238.8 L701.9,238.5 L702.3,238.5 L702.9,239.0 L703.3,239.8 L703.8,240.2 L704.3,239.8 L704.8,238.9 L705.4,237.8 L706.1,236.8 L706.8,236.5 L707.3,236.9 L707.8,237.5 L708.4,238.4 L709.0,239.3 L709.6,239.9 L710.2,240.2 L710.8,240.3 L711.4,240.4 L712.0,240.9 L712.7,242.0 L713.4,243.4 L714.1,244.8 L714.7,246.0 L715.3,246.7 L715.9,247.0 L716.6,246.8 L717.2,246.3 L717.8,245.7 L718.4,245.2 L718.9,244.9 L719.6,244.7 L720.2,244.6 L720.8,244.6 L721.4,244.9 L722.0,245.4 L722.6,246.5 L723.2,247.8 L723.8,248.9 L724.4,249.4 L725.0,249.1 L725.6,247.9 L726.2,246.2 L726.8,244.6 L727.4,243.6 L728.0,243.4 L728.6,244.2 L729.3,245.3 L729.9,246.4 L730.5,247.3 L731.1,247.6 L731.7,247.2 L732.2,246.4 L732.8,245.6 L733.4,244.9 L734.1,244.6 L734.6,244.8 L735.1,245.3 L735.7,246.1 L736.3,247.2 L736.9,248.6 L737.5,249.9 L738.1,250.9 L738.7,251.0 L739.3,250.3 L739.9,248.8 L740.6,247.1 L741.2,245.6 L741.8,244.5 L742.4,243.7 L742.8,243.1 L743.2,242.7" fill="none" stroke="#5757c6" stroke-width="1.0" stroke-linejoin="round"/>
<rect x="591.50" y="204.50" width="152.00" height="71.00" fill="none" stroke="#363636" stroke-width="1.15"/>
<path d="M591.60,275.10v-2M591.60,204.20v2M621.92,275.10v-2M621.92,204.20v2M652.24,275.10v-2M652.24,204.20v2M682.56,275.10v-2M682.56,204.20v2M712.88,275.10v-2M712.88,204.20v2M743.20,275.10v-2M743.20,204.20v2M591.60,263.28h2M743.20,263.28h-2M591.60,239.65h2M743.20,239.65h-2M591.60,216.02h2M743.20,216.02h-2" stroke="#3a3a3a" stroke-width="1" fill="none"/>
<text class="tk" x="592.50" y="284.40" text-anchor="middle">0</text>
<text class="tk" x="622.82" y="284.40" text-anchor="middle">.2</text>
<text class="tk" x="653.14" y="284.40" text-anchor="middle">.4</text>
<text class="tk" x="683.46" y="284.40" text-anchor="middle">.6</text>
<text class="tk" x="713.78" y="284.40" text-anchor="middle">.8</text>
<text class="tk" x="744.10" y="284.40" text-anchor="middle">1</text>
<text class="tk" x="590.20" y="218.72" text-anchor="end">1</text>
<text class="tk" x="590.20" y="242.35" text-anchor="end">0</text>
<text class="tk" x="590.20" y="265.98" text-anchor="end">-1</text>
<text class="ttl" x="164.7" y="305.9" text-anchor="middle">d=70cm</text>
<clipPath id="c20"><rect x="99.20" y="313.40" width="151.00" height="70.80"/></clipPath>
<path clip-path="url(#c20)" d="M99.2,357.7 L99.8,358.3 L100.7,357.8 L101.2,356.7 L101.9,355.4 L102.6,354.0 L103.2,353.0 L103.7,352.3 L104.3,351.5 L104.7,351.1 L105.2,351.5 L105.8,352.4 L106.4,353.9 L107.1,355.6 L107.7,357.2 L108.3,358.4 L108.8,359.4 L109.1,359.8 L109.8,359.5 L110.2,359.2 L110.7,358.7 L111.3,358.1 L111.9,357.5 L112.6,357.1 L113.2,356.8 L113.8,356.5 L114.3,356.2 L115.0,355.6 L115.7,354.5 L116.3,353.4 L116.8,352.4 L117.3,351.8 L117.9,352.0 L118.3,352.8 L118.8,353.2 L119.3,352.8 L119.9,352.1 L120.5,351.1 L121.1,350.1 L121.8,349.3 L122.4,349.0 L122.9,349.0 L123.5,349.2 L124.1,349.7 L124.7,350.4 L125.3,351.3 L125.9,352.0 L126.4,352.5 L127.1,352.6 L127.7,352.2 L128.3,351.6 L128.8,351.1 L129.4,351.1 L130.0,351.7 L130.5,352.7 L131.1,353.9 L131.7,354.8 L132.4,355.1 L132.9,354.9 L133.5,354.4 L134.1,353.8 L134.8,353.2 L135.4,352.8 L136.0,352.6 L136.5,352.5 L136.9,352.4 L137.5,351.7 L137.7,350.9 L138.5,350.4 L138.9,350.3 L139.4,350.3 L139.9,350.3 L140.5,350.4 L141.1,350.6 L141.8,351.0 L142.4,351.2 L143.1,351.3 L143.8,351.2 L144.5,350.8 L145.1,350.4 L145.7,350.2 L146.4,350.1 L147.0,350.2 L147.7,350.5 L148.4,350.7 L149.0,350.6 L149.7,350.2 L150.3,349.6 L150.9,349.0 L151.5,348.5 L152.1,348.3 L152.8,348.2 L153.4,348.4 L154.0,348.8 L154.6,349.1 L155.1,349.4 L155.6,349.6 L156.1,349.8 L156.6,350.1 L157.3,350.8 L157.9,351.9 L158.5,353.0 L159.0,354.1 L159.6,354.7 L160.2,354.7 L160.7,354.4 L161.2,353.8 L161.8,353.0 L162.6,352.4 L163.1,352.1 L163.7,351.9 L164.3,351.6 L165.0,351.3 L165.6,350.8 L166.3,350.1 L167.0,349.3 L167.6,348.5 L168.2,347.7 L168.7,347.0 L169.5,345.1 L170.1,342.4 L170.6,339.6 L171.1,337.4 L171.7,336.5 L172.3,337.1 L172.9,338.8 L173.5,341.1 L174.1,343.7 L174.7,346.2 L175.3,348.7 L176.0,351.7 L176.7,354.8 L177.3,357.8 L177.7,360.4 L178.5,367.7 L179.0,366.6 L179.6,364.1 L180.2,361.5 L180.7,359.7 L181.2,360.0 L181.7,361.4 L182.2,360.8 L182.8,358.3 L183.3,354.6 L184.0,350.5 L184.6,346.7 L185.3,344.0 L185.8,342.6 L186.4,341.9 L187.0,341.8 L187.6,342.1 L188.3,342.6 L188.8,343.1 L189.4,343.8 L189.9,344.7 L190.6,345.6 L191.2,346.5 L191.8,347.3 L192.3,348.1 L192.8,348.9 L193.5,350.5 L194.1,352.6 L194.7,354.7 L195.3,356.3 L195.8,357.0 L196.4,356.3 L197.0,354.5 L197.5,352.3 L198.2,350.1 L198.9,348.7 L199.4,348.2 L200.1,348.1 L200.8,348.1 L201.5,348.1 L202.2,348.1 L202.8,347.8 L203.4,347.5 L204.1,346.8 L204.7,346.2 L205.3,345.8 L205.8,345.5 L206.4,345.6 L207.0,346.0 L207.6,346.4 L208.2,346.8 L208.8,347.1 L209.4,347.1 L210.0,347.1 L210.6,347.2 L211.2,347.5 L211.8,348.1 L212.4,349.1 L213.0,350.2 L213.6,351.4 L214.2,352.5 L214.8,353.3 L215.5,353.7 L216.0,353.8 L216.5,353.9 L217.1,354.0 L217.6,354.1 L218.2,354.3 L218.8,354.4 L219.4,354.4 L220.0,354.4 L220.6,354.3 L221.3,354.1 L221.9,354.0 L222.6,354.0 L223.2,354.1 L223.9,354.2 L224.5,354.2 L225.1,354.4 L225.7,354.7 L226.3,355.2 L226.9,356.0 L227.5,356.9 L228.0,358.0 L228.6,358.9 L229.1,359.5 L229.8,359.2 L230.4,357.8 L230.9,355.8 L231.5,354.2 L232.1,353.4 L232.7,354.2 L233.3,356.3 L233.9,358.8 L234.5,361.1 L235.1,362.1 L235.7,361.5 L236.4,359.5 L237.0,356.9 L237.6,354.5 L238.1,353.1 L238.7,353.2 L239.1,354.8 L239.6,356.8 L240.1,358.3 L240.7,360.2 L241.4,361.9 L242.0,363.0 L242.6,363.0 L243.2,361.8 L243.8,359.7 L244.4,357.2 L245.0,355.0 L245.7,353.7 L246.2,353.3 L246.8,353.0 L247.5,352.8 L248.1,352.4 L248.8,352.2 L249.4,352.0 L249.8,352.0 L250.2,352.0" fill="none" stroke="#5757c6" stroke-width="1.0" stroke-linejoin="round"/>
<rect x="99.50" y="313.50" width="151.00" height="71.00" fill="none" stroke="#363636" stroke-width="1.15"/>
<path d="M99.20,384.20v-2M99.20,313.40v2M129.40,384.20v-2M129.40,313.40v2M159.60,384.20v-2M159.60,313.40v2M189.80,384.20v-2M189.80,313.40v2M220.00,384.20v-2M220.00,313.40v2M250.20,384.20v-2M250.20,313.40v2M99.20,372.40h2M250.20,372.40h-2M99.20,348.80h2M250.20,348.80h-2M99.20,325.20h2M250.20,325.20h-2" stroke="#3a3a3a" stroke-width="1" fill="none"/>
<text class="tk" x="100.10" y="393.50" text-anchor="middle">0</text>
<text class="tk" x="130.30" y="393.50" text-anchor="middle">.2</text>
<text class="tk" x="160.50" y="393.50" text-anchor="middle">.4</text>
<text class="tk" x="190.70" y="393.50" text-anchor="middle">.6</text>
<text class="tk" x="220.90" y="393.50" text-anchor="middle">.8</text>
<text class="tk" x="251.10" y="393.50" text-anchor="middle">1</text>
<text class="tk" x="97.80" y="327.90" text-anchor="end">1</text>
<text class="tk" x="97.80" y="351.50" text-anchor="end">0</text>
<text class="tk" x="97.80" y="375.10" text-anchor="end">-1</text>
<text class="ttl" x="336.5" y="305.9" text-anchor="middle">d=60cm</text>
<clipPath id="c21"><rect x="264.40" y="313.40" width="150.80" height="70.80"/></clipPath>
<path clip-path="url(#c21)" d="M264.4,353.3 L264.8,353.1 L265.3,352.8 L266.0,352.5 L266.7,352.5 L267.4,352.7 L267.9,353.1 L268.5,353.6 L269.1,354.3 L269.7,354.9 L270.3,355.5 L270.9,356.1 L271.4,356.6 L271.9,356.8 L272.6,356.3 L273.3,355.0 L273.8,353.3 L274.4,351.9 L275.0,351.2 L275.5,351.6 L276.1,352.7 L276.7,354.2 L277.3,355.5 L278.0,356.1 L278.5,355.9 L279.0,355.3 L279.6,354.4 L280.2,353.5 L280.8,352.5 L281.4,351.8 L282.0,351.3 L282.5,351.1 L283.1,351.6 L283.7,352.8 L284.2,354.0 L284.7,354.7 L285.5,354.5 L286.0,353.9 L286.6,353.1 L287.2,352.2 L287.9,351.2 L288.5,350.0 L289.2,348.6 L289.9,347.1 L290.5,345.6 L291.0,344.3 L291.5,343.4 L292.4,343.0 L293.0,343.5 L293.6,344.7 L294.1,345.9 L294.6,346.9 L295.3,349.2 L296.1,350.5 L296.6,350.0 L297.1,349.0 L297.7,347.9 L298.4,347.2 L299.1,347.4 L299.6,348.0 L300.1,348.9 L300.7,350.0 L301.3,351.1 L301.8,352.1 L302.4,353.0 L303.0,353.8 L303.6,354.4 L304.3,355.0 L304.9,355.7 L305.5,356.4 L306.2,356.9 L306.8,357.3 L307.5,357.5 L308.1,357.4 L308.7,357.1 L309.2,356.5 L309.8,355.7 L310.3,354.9 L310.8,353.9 L311.4,353.1 L312.0,352.3 L312.7,351.9 L313.2,351.8 L313.8,351.8 L314.5,351.9 L315.2,352.0 L315.9,351.9 L316.5,351.6 L317.2,351.3 L317.7,351.0 L318.3,350.9 L318.7,350.8 L319.4,351.3 L319.6,351.9 L320.2,352.3 L320.6,352.4 L321.1,352.2 L321.7,352.0 L322.3,351.5 L322.9,350.9 L323.5,350.3 L324.1,349.9 L324.7,349.7 L325.4,349.6 L326.0,349.5 L326.7,349.3 L327.3,349.0 L328.0,348.5 L328.6,347.9 L329.2,347.4 L329.8,347.1 L330.4,347.0 L331.0,347.1 L331.6,347.3 L332.2,347.5 L332.7,347.6 L333.3,347.7 L333.8,347.6 L334.4,347.7 L334.9,348.0 L335.4,348.3 L336.0,348.7 L336.8,349.0 L337.3,349.1 L337.8,349.2 L338.4,349.1 L339.1,348.8 L339.8,348.4 L340.4,347.9 L341.1,347.5 L341.7,347.2 L342.3,346.8 L342.8,346.4 L343.6,344.8 L344.3,342.2 L344.9,339.2 L345.5,336.3 L346.1,334.2 L346.6,333.5 L347.2,335.2 L347.8,339.2 L348.3,344.1 L348.8,348.7 L349.4,352.4 L350.0,356.5 L350.6,360.5 L351.2,363.7 L351.9,365.4 L352.5,365.2 L353.1,363.6 L353.7,361.0 L354.3,358.2 L354.9,355.6 L355.5,353.1 L356.0,350.3 L356.6,347.6 L357.2,345.3 L357.9,343.6 L358.4,342.8 L358.9,342.0 L359.5,341.2 L360.1,340.6 L360.7,340.1 L361.3,340.0 L361.8,340.4 L362.4,341.2 L363.0,342.5 L363.6,344.1 L364.2,345.7 L364.8,347.2 L365.4,348.4 L365.9,349.4 L366.5,350.1 L366.9,350.6 L367.6,351.3 L368.2,351.8 L368.7,352.3 L369.3,352.6 L370.0,352.8 L370.5,352.7 L371.1,352.2 L371.7,351.4 L372.3,350.4 L372.9,349.4 L373.5,348.8 L374.1,348.4 L374.5,348.3 L375.1,349.0 L375.4,350.0 L376.0,350.4 L376.4,350.1 L376.9,349.5 L377.4,348.5 L378.0,347.3 L378.6,346.1 L379.2,344.9 L379.9,343.9 L380.5,343.4 L381.1,343.4 L381.7,343.6 L382.3,344.1 L382.9,344.7 L383.5,345.4 L384.2,346.1 L384.8,346.6 L385.4,347.0 L386.0,347.3 L386.5,347.5 L387.3,348.0 L388.0,349.0 L388.6,350.3 L389.2,351.7 L389.8,353.2 L390.4,354.4 L391.1,355.2 L391.6,355.6 L392.2,355.7 L392.8,355.8 L393.4,355.9 L394.0,356.2 L394.6,356.6 L395.1,357.0 L395.6,357.3 L396.3,357.3 L396.9,356.5 L397.5,355.3 L398.0,354.1 L398.6,353.5 L399.2,353.7 L399.8,354.8 L400.4,356.2 L401.0,357.5 L401.6,358.1 L402.2,357.3 L402.8,355.5 L403.4,353.2 L404.0,351.2 L404.6,350.1 L405.2,350.5 L405.8,351.9 L406.3,353.7 L407.0,355.2 L407.7,355.9 L408.2,355.7 L408.7,355.1 L409.3,354.2 L409.9,353.2 L410.5,352.3 L411.1,351.6 L411.7,351.3 L412.2,351.3 L412.9,352.1 L413.6,353.6 L414.3,355.3 L414.8,357.0 L415.2,358.1" fill="none" stroke="#5757c6" stroke-width="1.0" stroke-linejoin="round"/>
<rect x="264.50" y="313.50" width="151.00" height="71.00" fill="none" stroke="#363636" stroke-width="1.15"/>
<path d="M264.40,384.20v-2M264.40,313.40v2M294.56,384.20v-2M294.56,313.40v2M324.72,384.20v-2M324.72,313.40v2M354.88,384.20v-2M354.88,313.40v2M385.04,384.20v-2M385.04,313.40v2M415.20,384.20v-2M415.20,313.40v2M264.40,372.40h2M415.20,372.40h-2M264.40,348.80h2M415.20,348.80h-2M264.40,325.20h2M415.20,325.20h-2" stroke="#3a3a3a" stroke-width="1" fill="none"/>
<text class="tk" x="265.30" y="393.50" text-anchor="middle">0</text>
<text class="tk" x="295.46" y="393.50" text-anchor="middle">.2</text>
<text class="tk" x="325.62" y="393.50" text-anchor="middle">.4</text>
<text class="tk" x="355.78" y="393.50" text-anchor="middle">.6</text>
<text class="tk" x="385.94" y="393.50" text-anchor="middle">.8</text>
<text class="tk" x="416.10" y="393.50" text-anchor="middle">1</text>
<text class="tk" x="263.00" y="327.90" text-anchor="end">1</text>
<text class="tk" x="263.00" y="351.50" text-anchor="end">0</text>
<text class="tk" x="263.00" y="375.10" text-anchor="end">-1</text>
<text class="ttl" x="506.2" y="305.9" text-anchor="middle">d=50cm</text>
<clipPath id="c22"><rect x="429.40" y="313.40" width="150.60" height="70.80"/></clipPath>
<path clip-path="url(#c22)" d="M429.4,354.7 L430.0,355.4 L430.9,356.5 L431.4,357.3 L431.9,358.3 L432.5,359.1 L433.2,359.4 L433.9,359.0 L434.4,358.2 L435.0,357.1 L435.6,355.9 L436.2,354.7 L436.8,353.7 L437.4,352.8 L437.9,352.2 L438.4,351.9 L439.1,352.4 L439.7,353.8 L440.3,355.5 L440.9,357.0 L441.4,357.7 L442.0,357.3 L442.6,356.4 L443.1,355.4 L443.8,354.7 L444.5,354.9 L445.0,355.5 L445.5,356.3 L446.1,357.1 L446.7,357.9 L447.3,358.7 L447.9,359.3 L448.5,359.8 L449.0,360.2 L449.7,360.6 L450.3,361.0 L450.9,361.3 L451.4,361.2 L452.0,360.7 L452.6,359.4 L453.1,357.4 L453.7,355.1 L454.3,352.9 L455.0,351.3 L455.5,350.8 L456.1,350.5 L456.7,350.4 L457.3,350.5 L457.9,350.6 L458.5,350.8 L459.0,350.9 L459.5,351.0 L460.2,350.8 L460.8,350.4 L461.4,350.1 L462.0,350.0 L462.5,350.3 L463.1,351.2 L463.7,352.6 L464.3,354.0 L464.9,355.1 L465.5,355.6 L466.1,355.5 L466.6,354.9 L467.1,354.2 L467.8,353.6 L468.6,353.5 L469.0,353.6 L469.6,353.8 L470.2,353.9 L470.8,353.9 L471.5,353.7 L472.1,353.2 L472.8,352.7 L473.4,352.2 L474.0,351.8 L474.6,351.6 L475.2,351.3 L475.9,350.9 L476.5,350.5 L477.0,349.9 L477.6,349.2 L478.1,348.3 L478.6,347.5 L479.1,346.8 L479.8,346.0 L480.4,345.7 L481.0,345.9 L481.5,346.3 L482.1,347.0 L482.7,348.0 L483.2,349.2 L483.8,350.5 L484.4,351.4 L485.1,351.8 L485.6,351.7 L486.2,351.2 L486.8,350.6 L487.4,349.9 L488.0,349.3 L488.6,348.9 L489.1,348.7 L489.6,348.6 L490.4,348.6 L491.0,348.5 L491.6,348.3 L492.2,348.0 L492.7,347.8 L493.2,348.1 L493.5,348.6 L494.2,348.6 L494.6,348.3 L495.1,348.0 L495.7,347.6 L496.3,347.3 L497.0,346.9 L497.6,346.4 L498.2,345.9 L498.7,345.4 L499.4,344.8 L500.0,344.4 L500.6,344.1 L501.2,343.6 L501.7,342.7 L502.3,339.9 L502.9,336.0 L503.4,332.6 L503.9,331.6 L504.5,333.9 L505.0,338.4 L505.6,343.8 L506.2,348.6 L506.8,352.3 L507.4,356.6 L508.0,360.9 L508.6,364.4 L509.2,366.5 L509.8,366.5 L510.3,364.8 L510.8,362.2 L511.4,359.2 L512.2,356.3 L512.7,354.8 L513.2,353.1 L513.8,351.4 L514.4,349.8 L515.1,348.4 L515.7,347.2 L516.4,346.3 L517.0,345.6 L517.6,345.1 L518.3,344.7 L518.9,344.4 L519.5,344.3 L520.1,344.2 L520.7,344.4 L521.4,344.7 L522.0,345.3 L522.6,346.0 L523.2,346.9 L523.7,347.9 L524.3,348.8 L524.9,350.1 L525.5,351.5 L526.1,353.0 L526.7,354.5 L527.3,355.9 L527.8,357.0 L528.3,357.8 L528.8,358.2 L529.4,357.9 L530.0,356.8 L530.5,355.2 L531.0,353.5 L531.8,352.1 L532.3,351.5 L532.8,350.8 L533.4,350.0 L534.1,349.3 L534.7,348.5 L535.4,347.6 L536.0,346.8 L536.7,346.0 L537.3,345.4 L537.8,344.9 L538.5,344.9 L539.0,345.3 L539.6,346.1 L540.1,347.2 L540.6,348.4 L541.1,349.7 L541.7,350.8 L542.4,351.8 L542.9,352.3 L543.5,352.7 L544.0,352.9 L544.7,353.0 L545.3,353.1 L545.9,353.1 L546.5,353.3 L547.1,353.7 L547.8,354.1 L548.4,354.6 L549.0,355.0 L549.6,355.2 L550.2,355.2 L550.9,354.9 L551.5,354.4 L552.1,353.8 L552.7,353.3 L553.3,352.8 L553.9,352.7 L554.4,352.8 L555.0,353.4 L555.7,354.6 L556.3,356.0 L556.8,357.4 L557.4,358.7 L557.9,359.7 L558.4,360.1 L558.9,360.0 L559.6,358.2 L560.3,355.2 L560.9,351.9 L561.4,349.2 L561.9,348.1 L562.5,350.7 L562.9,355.7 L563.4,359.2 L563.9,359.2 L564.3,358.3 L564.8,356.9 L565.5,355.8 L566.4,355.3 L566.9,355.4 L567.5,355.6 L568.0,355.9 L568.7,356.3 L569.3,357.0 L570.0,357.9 L570.7,359.0 L571.4,360.1 L572.1,361.2 L572.8,362.0 L573.4,362.4 L574.0,362.4 L574.7,361.8 L575.4,360.8 L576.1,359.5 L576.8,358.2 L577.5,356.9 L578.1,355.8 L578.7,354.8 L579.2,354.0 L579.6,353.3 L580.0,352.7" fill="none" stroke="#5757c6" stroke-width="1.0" stroke-linejoin="round"/>
<rect x="429.50" y="313.50" width="151.00" height="71.00" fill="none" stroke="#363636" stroke-width="1.15"/>
<path d="M429.40,384.20v-2M429.40,313.40v2M459.52,384.20v-2M459.52,313.40v2M489.64,384.20v-2M489.64,313.40v2M519.76,384.20v-2M519.76,313.40v2M549.88,384.20v-2M549.88,313.40v2M580.00,384.20v-2M580.00,313.40v2M429.40,372.40h2M580.00,372.40h-2M429.40,348.80h2M580.00,348.80h-2M429.40,325.20h2M580.00,325.20h-2" stroke="#3a3a3a" stroke-width="1" fill="none"/>
<text class="tk" x="430.30" y="393.50" text-anchor="middle">0</text>
<text class="tk" x="460.42" y="393.50" text-anchor="middle">.2</text>
<text class="tk" x="490.54" y="393.50" text-anchor="middle">.4</text>
<text class="tk" x="520.66" y="393.50" text-anchor="middle">.6</text>
<text class="tk" x="550.78" y="393.50" text-anchor="middle">.8</text>
<text class="tk" x="580.90" y="393.50" text-anchor="middle">1</text>
<text class="tk" x="428.00" y="327.90" text-anchor="end">1</text>
<text class="tk" x="428.00" y="351.50" text-anchor="end">0</text>
<text class="tk" x="428.00" y="375.10" text-anchor="end">-1</text>
<text class="ttl" x="674.3" y="305.9" text-anchor="middle">d=40cm</text>
<clipPath id="c23"><rect x="591.60" y="314.00" width="151.00" height="71.30"/></clipPath>
<path clip-path="url(#c23)" d="M591.6,355.4 L592.0,355.9 L592.4,356.7 L593.0,357.6 L593.7,358.5 L594.3,359.3 L595.0,359.9 L595.6,360.2 L596.1,360.2 L596.8,359.8 L597.4,358.9 L598.0,358.0 L598.6,357.3 L599.1,357.0 L599.8,357.3 L600.4,357.8 L601.1,358.3 L601.7,358.7 L602.2,358.9 L602.9,358.5 L603.7,357.7 L604.2,357.2 L604.9,356.6 L605.5,356.1 L606.2,355.7 L606.7,355.7 L607.4,357.5 L608.2,359.8 L608.7,360.0 L609.2,360.1 L609.8,360.0 L610.5,359.7 L611.1,359.5 L611.7,359.5 L612.3,359.6 L612.7,359.9 L613.5,360.7 L614.2,360.5 L614.7,360.1 L615.2,359.5 L615.9,358.8 L616.5,357.9 L617.2,357.1 L617.8,356.3 L618.3,355.4 L618.8,354.6 L619.5,352.4 L619.8,350.6 L620.3,349.2 L620.8,348.7 L621.4,348.6 L622.0,348.8 L622.7,349.3 L623.3,349.9 L623.9,350.8 L624.4,352.0 L625.0,353.4 L625.6,354.6 L626.3,355.6 L626.8,355.9 L627.4,356.0 L627.9,355.9 L628.5,355.6 L629.1,355.0 L629.7,354.5 L630.3,354.1 L630.9,354.0 L631.5,354.3 L632.2,354.9 L632.8,355.5 L633.4,356.0 L634.1,356.3 L634.7,356.5 L635.4,356.7 L636.0,356.8 L636.6,356.9 L637.2,356.7 L637.7,356.4 L638.3,355.8 L638.9,355.1 L639.4,354.4 L639.9,353.9 L640.6,353.4 L641.3,353.1 L641.9,352.8 L642.5,352.5 L642.9,352.3 L643.6,353.2 L644.5,354.1 L644.9,354.0 L645.3,353.8 L645.9,353.7 L646.4,353.6 L647.0,353.4 L647.7,353.0 L648.3,352.5 L649.0,352.0 L649.5,351.8 L650.2,351.7 L650.8,351.8 L651.5,351.8 L652.2,351.5 L652.9,351.1 L653.5,350.6 L654.1,350.3 L654.6,350.3 L655.0,350.4 L655.7,350.2 L656.0,349.4 L656.5,349.2 L657.0,349.3 L657.5,349.4 L658.0,349.4 L658.6,349.3 L659.2,349.3 L659.9,349.4 L660.5,349.5 L661.1,349.4 L661.7,349.1 L662.4,348.6 L663.0,347.9 L663.6,347.4 L664.3,347.1 L664.9,347.0 L665.6,346.9 L666.2,346.5 L666.8,345.8 L667.4,344.8 L668.0,343.7 L668.6,342.7 L669.1,342.0 L669.7,341.5 L670.1,341.1 L670.8,339.3 L671.4,336.7 L671.9,334.6 L672.4,334.2 L672.9,336.4 L673.5,340.3 L674.0,345.2 L674.7,349.8 L675.2,353.3 L675.9,356.9 L676.5,360.2 L677.2,362.8 L677.7,364.7 L678.2,366.1 L678.5,365.8 L679.2,364.0 L679.6,362.7 L680.1,360.8 L680.7,358.3 L681.4,355.2 L682.0,351.9 L682.6,348.9 L683.2,346.6 L683.7,345.3 L684.4,345.0 L685.1,345.9 L685.6,347.2 L686.2,348.3 L686.7,348.7 L687.3,348.0 L687.8,346.9 L688.3,345.8 L689.0,345.4 L689.5,345.3 L690.2,345.0 L690.8,344.6 L691.5,344.2 L692.2,344.3 L692.8,345.1 L693.4,347.3 L694.0,350.3 L694.5,353.5 L695.1,356.1 L695.8,357.4 L696.3,357.3 L696.9,356.8 L697.5,356.2 L698.1,355.6 L698.8,355.0 L699.4,354.4 L699.9,353.8 L700.3,353.3 L700.9,353.2 L701.2,353.9 L701.8,353.8 L702.3,353.5 L702.8,353.1 L703.4,352.8 L704.0,352.4 L704.6,351.8 L705.3,350.9 L705.8,350.0 L706.4,349.4 L707.0,349.0 L707.5,348.9 L708.0,349.2 L708.6,349.7 L709.4,350.2 L709.9,350.3 L710.4,350.3 L711.0,350.3 L711.7,350.6 L712.3,351.2 L713.0,352.1 L713.6,353.0 L714.3,353.7 L714.9,354.1 L715.4,354.4 L716.1,354.8 L716.7,355.6 L717.2,356.5 L717.8,357.5 L718.3,358.4 L718.9,359.0 L719.4,359.2 L720.0,359.2 L720.5,358.8 L721.2,358.5 L721.8,358.3 L722.4,358.2 L723.0,358.1 L723.6,357.8 L724.1,357.4 L724.5,356.9 L725.2,355.8 L725.6,355.0 L726.0,355.1 L726.4,356.7 L726.9,359.1 L727.5,360.6 L728.0,360.4 L728.5,359.5 L729.1,358.1 L729.8,356.5 L730.5,355.5 L731.1,355.2 L731.8,355.4 L732.5,355.8 L733.2,356.1 L733.9,356.2 L734.5,356.2 L735.0,356.2 L735.7,355.5 L736.1,354.4 L736.6,354.6 L737.1,356.0 L737.7,357.8 L738.3,359.6 L739.0,360.9 L739.6,361.5 L740.2,361.7 L740.9,361.8 L741.6,362.1 L742.2,362.3 L742.6,362.5" fill="none" stroke="#5757c6" stroke-width="1.0" stroke-linejoin="round"/>
<rect x="591.50" y="314.50" width="151.00" height="71.00" fill="none" stroke="#363636" stroke-width="1.15"/>
<path d="M591.60,385.30v-2M591.60,314.00v2M621.80,385.30v-2M621.80,314.00v2M652.00,385.30v-2M652.00,314.00v2M682.20,385.30v-2M682.20,314.00v2M712.40,385.30v-2M712.40,314.00v2M742.60,385.30v-2M742.60,314.00v2M591.60,373.42h2M742.60,373.42h-2M591.60,349.65h2M742.60,349.65h-2M591.60,325.88h2M742.60,325.88h-2" stroke="#3a3a3a" stroke-width="1" fill="none"/>
<text class="tk" x="592.50" y="394.60" text-anchor="middle">0</text>
<text class="tk" x="622.70" y="394.60" text-anchor="middle">.2</text>
<text class="tk" x="652.90" y="394.60" text-anchor="middle">.4</text>
<text class="tk" x="683.10" y="394.60" text-anchor="middle">.6</text>
<text class="tk" x="713.30" y="394.60" text-anchor="middle">.8</text>
<text class="tk" x="743.50" y="394.60" text-anchor="middle">1</text>
<text class="tk" x="590.20" y="328.58" text-anchor="end">1</text>
<text class="tk" x="590.20" y="352.35" text-anchor="end">0</text>
<text class="tk" x="590.20" y="376.12" text-anchor="end">-1</text>
<text class="ttl" x="164.7" y="414.7" text-anchor="middle">d=30cm</text>
<clipPath id="c30"><rect x="100.20" y="423.20" width="150.30" height="70.60"/></clipPath>
<path clip-path="url(#c30)" d="M100.2,470.6 L100.5,469.4 L101.0,467.8 L101.6,466.0 L102.3,464.8 L102.9,464.4 L103.4,464.7 L103.9,465.3 L104.4,466.1 L105.0,466.8 L105.5,467.4 L106.1,468.0 L106.6,468.4 L107.0,468.6 L107.7,468.1 L108.2,466.9 L108.7,465.5 L109.2,464.3 L109.8,463.8 L110.3,464.3 L110.9,465.3 L111.4,466.5 L112.0,467.8 L112.5,468.8 L113.0,469.6 L113.6,470.6 L114.1,471.5 L114.7,472.2 L115.2,472.4 L115.8,472.0 L116.3,470.9 L116.8,469.4 L117.3,467.7 L118.0,466.1 L118.4,465.1 L118.9,463.9 L119.5,462.7 L120.0,461.7 L120.6,460.9 L121.1,460.3 L121.6,459.9 L122.1,459.7 L122.7,459.6 L123.2,459.6 L123.7,459.8 L124.2,460.1 L124.8,460.6 L125.3,461.0 L125.8,461.8 L126.4,462.9 L126.9,464.0 L127.5,464.9 L128.0,465.5 L128.5,465.8 L128.9,465.8 L129.7,464.0 L130.3,462.2 L130.7,462.4 L131.2,463.1 L131.7,464.2 L132.3,465.4 L133.0,466.3 L133.5,466.4 L134.0,466.2 L134.5,465.5 L135.1,464.7 L135.7,463.8 L136.2,463.2 L136.7,462.8 L137.1,462.7 L137.9,463.7 L138.5,464.4 L138.9,463.8 L139.5,462.7 L140.1,461.4 L140.7,460.2 L141.2,459.5 L142.0,460.1 L142.6,461.0 L143.0,460.5 L143.4,459.5 L143.9,459.0 L144.3,459.3 L144.8,459.8 L145.3,460.3 L145.9,460.5 L146.7,460.3 L147.1,460.0 L147.6,459.6 L148.1,459.2 L148.7,458.9 L149.3,458.5 L149.9,458.2 L150.5,457.8 L151.1,457.5 L151.6,457.1 L152.1,456.7 L152.8,456.3 L153.4,456.1 L154.0,456.2 L154.5,456.5 L155.1,457.1 L155.6,457.8 L156.2,458.4 L156.7,458.9 L157.2,459.2 L157.7,459.4 L158.2,459.4 L158.7,459.2 L159.2,458.9 L159.7,458.6 L160.3,458.4 L160.8,458.2 L161.4,458.0 L161.9,457.7 L162.5,457.3 L163.1,456.5 L163.7,455.6 L164.3,454.7 L164.8,454.0 L165.3,453.5 L165.8,453.2 L166.5,453.0 L167.1,452.7 L167.6,452.1 L168.0,451.3 L168.5,450.0 L169.1,448.0 L169.6,445.4 L170.2,442.9 L170.7,441.2 L171.3,441.1 L171.8,442.8 L172.4,445.8 L173.0,449.5 L173.5,453.2 L174.0,456.6 L174.5,462.5 L174.8,468.7 L175.4,472.8 L175.8,473.8 L176.3,474.2 L176.8,474.0 L177.4,473.1 L178.1,471.6 L178.5,470.0 L179.1,467.8 L179.6,465.0 L180.2,462.1 L180.8,459.2 L181.3,456.7 L181.8,454.8 L182.2,453.5 L182.8,453.3 L183.1,455.2 L183.5,456.4 L184.0,456.1 L184.4,455.3 L184.9,454.2 L185.5,453.3 L186.3,452.9 L186.7,452.9 L187.3,453.0 L187.8,453.3 L188.5,453.8 L189.1,454.5 L189.7,455.6 L190.3,456.7 L190.9,457.8 L191.4,458.7 L191.7,459.3 L192.4,459.9 L192.6,460.0 L193.1,460.1 L193.5,460.2 L193.9,460.5 L194.4,461.0 L194.9,461.6 L195.5,462.3 L196.0,463.0 L196.6,463.4 L197.2,463.4 L197.7,462.9 L198.2,461.9 L198.7,460.5 L199.2,459.1 L199.8,457.7 L200.3,456.5 L200.9,455.7 L201.5,455.2 L202.1,454.8 L202.7,454.6 L203.2,454.5 L203.7,454.5 L204.3,454.7 L204.9,455.3 L205.4,456.3 L206.0,457.7 L206.6,459.4 L207.2,461.2 L207.8,462.7 L208.4,463.9 L208.9,464.6 L209.5,464.8 L210.0,464.8 L210.6,464.7 L211.1,464.6 L211.7,464.6 L212.3,464.6 L212.8,464.6 L213.4,464.5 L213.9,464.4 L214.4,464.2 L215.0,464.1 L215.4,464.0 L215.9,464.1 L216.3,464.4 L217.0,465.0 L217.6,466.0 L218.2,467.0 L218.7,468.0 L219.2,468.9 L219.7,469.6 L220.1,470.1 L220.4,470.2 L221.1,468.9 L221.5,466.5 L221.8,465.1 L222.2,466.4 L222.5,468.7 L223.2,469.8 L223.6,469.4 L224.2,468.6 L224.8,467.6 L225.5,466.5 L226.1,465.3 L226.7,464.2 L227.3,463.6 L227.9,463.7 L228.5,464.9 L229.0,466.6 L229.5,468.4 L230.0,469.7 L230.6,470.3 L231.2,470.5 L231.7,470.3 L232.3,469.8 L232.7,469.5 L233.1,470.0 L233.4,470.7 L234.1,470.1 L234.5,469.4 L235.0,468.7 L235.5,467.8 L236.1,467.0 L236.7,466.0 L237.3,464.8 L237.9,463.3 L238.5,461.9 L239.1,460.8 L239.6,460.0 L240.2,459.8 L240.8,460.1 L241.4,460.8 L242.0,461.6 L242.5,462.2 L243.1,462.5 L243.7,462.5 L244.2,462.4 L244.7,462.4 L245.3,462.6 L245.8,463.1 L246.3,463.8 L246.8,464.5 L247.3,465.2 L247.8,465.7 L248.4,466.1 L249.1,466.1 L249.7,465.9 L250.2,465.7 L250.5,465.6" fill="none" stroke="#5757c6" stroke-width="1.0" stroke-linejoin="round"/>
<rect x="100.50" y="423.50" width="150.00" height="70.00" fill="none" stroke="#363636" stroke-width="1.15"/>
<path d="M113.86,493.80v-2M113.86,423.20v2M141.19,493.80v-2M141.19,423.20v2M168.52,493.80v-2M168.52,423.20v2M195.85,493.80v-2M195.85,423.20v2M223.17,493.80v-2M223.17,423.20v2M250.50,493.80v-2M250.50,423.20v2M100.20,482.03h2M250.50,482.03h-2M100.20,458.50h2M250.50,458.50h-2M100.20,434.97h2M250.50,434.97h-2" stroke="#3a3a3a" stroke-width="1" fill="none"/>
<text class="tk" x="114.76" y="503.10" text-anchor="middle">0</text>
<text class="tk" x="142.09" y="503.10" text-anchor="middle">.2</text>
<text class="tk" x="169.42" y="503.10" text-anchor="middle">.4</text>
<text class="tk" x="196.75" y="503.10" text-anchor="middle">.6</text>
<text class="tk" x="224.07" y="503.10" text-anchor="middle">.8</text>
<text class="tk" x="251.40" y="503.10" text-anchor="middle">1</text>
<text class="tk" x="98.80" y="437.67" text-anchor="end">1</text>
<text class="tk" x="98.80" y="461.20" text-anchor="end">0</text>
<text class="tk" x="98.80" y="484.73" text-anchor="end">-1</text>
<text class="ttl" x="336.5" y="414.7" text-anchor="middle">d=20cm</text>
<clipPath id="c31"><rect x="266.90" y="426.60" width="149.50" height="64.40"/></clipPath>
<path clip-path="url(#c31)" d="M266.9,469.3 L267.5,467.9 L268.4,465.9 L268.9,465.0 L269.5,463.9 L270.1,462.8 L270.8,461.9 L271.4,461.3 L272.0,460.8 L272.6,460.3 L273.2,460.0 L273.8,460.0 L274.4,460.7 L275.0,463.5 L275.5,468.1 L276.0,472.2 L276.6,473.6 L277.2,471.3 L277.8,466.5 L278.4,460.8 L279.0,455.8 L279.6,453.7 L280.2,456.6 L280.7,463.4 L281.3,470.6 L281.8,474.5 L282.4,473.8 L283.0,470.8 L283.6,466.8 L284.2,463.1 L284.8,461.1 L285.4,461.5 L286.0,463.4 L286.5,465.9 L287.1,468.2 L287.8,469.6 L288.3,469.8 L288.8,469.7 L289.4,469.5 L290.0,469.2 L290.6,468.8 L291.2,468.5 L291.7,468.2 L292.3,467.8 L292.9,467.0 L293.5,465.8 L294.1,464.4 L294.7,462.8 L295.3,461.5 L295.9,460.5 L296.4,459.9 L296.8,459.7 L297.6,463.6 L298.3,467.6 L298.8,467.0 L299.4,465.4 L300.0,463.5 L300.7,461.9 L301.3,461.1 L301.9,461.3 L302.5,462.3 L303.1,463.5 L303.7,464.4 L304.3,464.8 L304.8,464.5 L305.4,463.7 L306.0,462.8 L306.6,462.0 L307.3,461.5 L307.9,461.3 L308.5,461.2 L309.2,461.1 L310.0,461.4 L310.6,462.0 L311.3,462.6 L311.8,463.2 L312.4,463.9 L312.7,464.3 L313.2,463.6 L313.7,462.1 L314.3,459.9 L315.0,457.5 L315.6,455.5 L316.2,454.3 L316.8,454.1 L317.4,454.5 L318.0,455.5 L318.6,456.6 L319.2,457.8 L319.8,459.0 L320.4,460.3 L321.0,461.4 L321.6,462.1 L322.2,462.1 L322.8,461.5 L323.3,460.5 L323.9,459.5 L324.5,458.8 L325.2,458.7 L325.8,458.9 L326.4,459.0 L327.1,458.9 L327.8,458.5 L328.5,457.9 L329.1,457.4 L329.7,457.1 L330.4,457.2 L331.1,457.5 L331.7,457.8 L332.2,458.0 L332.7,458.0 L333.3,457.3 L333.7,456.4 L334.2,456.0 L334.6,456.8 L335.1,458.2 L335.7,458.8 L336.2,458.4 L336.8,457.5 L337.4,456.6 L338.0,456.1 L338.7,456.4 L339.2,457.8 L339.8,460.1 L340.3,462.3 L341.0,463.4 L341.6,462.4 L342.2,460.2 L342.7,456.9 L343.3,453.1 L343.9,449.3 L344.6,445.7 L345.1,442.7 L345.7,440.3 L346.1,438.9 L346.8,438.6 L347.3,440.4 L347.8,443.8 L348.4,448.0 L348.9,452.0 L349.5,457.3 L350.2,463.2 L350.9,468.7 L351.5,473.2 L352.1,475.8 L352.8,475.8 L353.4,473.2 L354.1,469.5 L354.6,466.2 L355.1,464.6 L355.6,468.1 L355.9,474.2 L356.6,474.6 L357.0,471.6 L357.5,466.8 L358.1,461.0 L358.7,454.8 L359.4,448.8 L360.0,443.4 L360.6,439.1 L361.1,436.6 L361.8,437.0 L362.5,441.0 L363.1,446.9 L363.6,452.8 L364.1,456.5 L364.6,457.2 L364.9,455.5 L365.6,455.6 L366.1,457.1 L366.7,459.5 L367.4,462.5 L368.1,465.7 L368.8,468.7 L369.5,470.9 L370.1,471.9 L370.8,471.3 L371.4,469.3 L372.0,466.6 L372.6,464.3 L373.0,462.9 L373.6,462.0 L374.0,461.8 L374.5,462.5 L375.0,463.7 L375.6,465.4 L376.2,467.1 L376.8,468.2 L377.5,468.2 L378.0,467.2 L378.6,465.6 L379.2,463.5 L379.8,461.1 L380.4,458.7 L381.0,456.6 L381.5,455.2 L382.0,454.7 L382.7,455.9 L383.3,458.9 L383.9,462.3 L384.4,465.1 L385.0,466.0 L385.6,464.8 L386.2,462.2 L386.8,459.3 L387.4,457.0 L388.0,456.0 L388.6,456.2 L389.2,457.0 L389.8,458.0 L390.4,459.2 L391.0,460.6 L391.6,462.8 L392.1,466.0 L392.7,469.5 L393.3,472.5 L394.0,474.0 L394.5,473.8 L395.1,472.8 L395.7,471.1 L396.3,469.1 L396.9,467.0 L397.5,465.2 L398.0,463.7 L398.5,462.9 L399.1,464.3 L399.5,467.7 L400.0,469.0 L400.5,467.3 L401.0,464.3 L401.7,461.0 L402.3,458.4 L402.9,457.5 L403.5,459.1 L404.1,462.7 L404.6,466.8 L405.2,470.3 L405.9,471.9 L406.5,471.4 L407.2,469.9 L407.8,467.6 L408.5,464.7 L409.2,461.6 L409.8,459.0 L410.4,457.6 L411.1,458.3 L411.7,461.0 L412.3,464.5 L412.8,467.7 L413.4,469.4 L414.1,469.3 L414.7,468.0 L415.4,466.3 L416.0,464.6 L416.4,463.5" fill="none" stroke="#5757c6" stroke-width="1.0" stroke-linejoin="round"/>
<rect x="266.50" y="426.50" width="150.00" height="65.00" fill="none" stroke="#363636" stroke-width="1.15"/>
<path d="M266.90,491.00v-2M266.90,426.60v2M296.80,491.00v-2M296.80,426.60v2M326.70,491.00v-2M326.70,426.60v2M356.60,491.00v-2M356.60,426.60v2M386.50,491.00v-2M386.50,426.60v2M416.40,491.00v-2M416.40,426.60v2M266.90,480.27h2M416.40,480.27h-2M266.90,458.80h2M416.40,458.80h-2M266.90,437.33h2M416.40,437.33h-2" stroke="#3a3a3a" stroke-width="1" fill="none"/>
<text class="tk" x="267.80" y="500.30" text-anchor="middle">0</text>
<text class="tk" x="297.70" y="500.30" text-anchor="middle">.2</text>
<text class="tk" x="327.60" y="500.30" text-anchor="middle">.4</text>
<text class="tk" x="357.50" y="500.30" text-anchor="middle">.6</text>
<text class="tk" x="387.40" y="500.30" text-anchor="middle">.8</text>
<text class="tk" x="417.30" y="500.30" text-anchor="middle">1</text>
<text class="tk" x="265.50" y="440.03" text-anchor="end">1</text>
<text class="tk" x="265.50" y="461.50" text-anchor="end">0</text>
<text class="tk" x="265.50" y="482.97" text-anchor="end">-1</text>
<text class="ttl" x="506.2" y="414.7" text-anchor="middle">d=10cm</text>
<clipPath id="c32"><rect x="430.60" y="426.80" width="149.60" height="70.40"/></clipPath>
<path clip-path="url(#c32)" d="M430.6,468.1 L431.3,460.1 L432.1,452.5 L432.8,454.1 L433.3,459.8 L433.8,467.8 L434.4,475.4 L435.1,479.9 L435.7,480.0 L436.3,478.1 L436.9,475.3 L437.5,472.6 L438.1,471.2 L438.7,471.8 L439.2,473.5 L439.7,475.3 L440.3,476.1 L440.9,476.0 L441.4,475.5 L442.1,474.6 L442.7,473.6 L443.4,472.5 L444.1,471.4 L444.6,470.4 L445.2,469.0 L445.8,467.4 L446.4,465.4 L446.9,463.2 L447.5,461.0 L448.1,459.1 L448.6,457.7 L449.2,456.2 L449.8,455.2 L450.4,454.7 L450.9,454.8 L451.5,455.6 L452.1,457.2 L452.7,459.7 L453.4,462.7 L454.0,465.7 L454.7,468.4 L455.3,470.1 L455.9,470.2 L456.5,469.0 L457.1,466.9 L457.7,464.5 L458.4,462.6 L459.0,461.8 L459.6,462.1 L460.1,463.0 L460.7,464.4 L461.3,465.8 L461.9,467.2 L462.5,468.4 L463.0,469.4 L463.5,470.0 L464.2,470.5 L464.8,470.8 L465.4,470.8 L465.9,470.3 L466.5,469.4 L467.1,467.5 L467.6,464.8 L468.2,461.9 L468.8,459.5 L469.5,458.3 L470.1,458.4 L470.8,459.1 L471.5,460.1 L472.2,461.1 L472.9,462.2 L473.5,463.2 L474.0,464.1 L474.6,465.7 L475.0,466.9 L475.5,467.0 L476.0,465.9 L476.6,463.9 L477.2,461.6 L477.8,459.5 L478.5,458.5 L479.0,458.9 L479.6,460.6 L480.2,462.6 L480.8,464.4 L481.5,465.1 L482.0,464.8 L482.6,464.0 L483.3,462.8 L484.0,461.6 L484.6,460.4 L485.3,459.3 L486.0,458.7 L486.5,458.8 L487.1,459.4 L487.7,460.5 L488.3,462.0 L488.9,463.7 L489.4,465.2 L490.0,466.4 L490.4,466.9 L491.2,466.6 L491.8,465.5 L492.4,464.3 L493.0,463.3 L493.4,462.9 L494.0,463.6 L494.4,464.7 L494.9,465.2 L495.4,464.8 L496.0,463.8 L496.7,462.3 L497.3,460.9 L497.9,459.9 L498.5,459.9 L499.1,460.7 L499.7,461.7 L500.3,462.2 L500.9,461.5 L501.5,458.5 L502.0,453.5 L502.5,448.3 L503.1,444.6 L503.9,444.0 L504.4,445.6 L505.0,448.5 L505.6,452.4 L506.3,456.7 L506.9,461.3 L507.6,465.7 L508.3,469.9 L508.9,473.5 L509.4,476.4 L509.9,478.2 L510.7,478.2 L511.3,474.4 L511.7,470.0 L512.1,468.0 L512.5,472.2 L512.9,478.9 L513.6,480.0 L514.0,477.5 L514.5,473.2 L515.0,467.8 L515.6,461.7 L516.2,455.5 L516.8,449.9 L517.5,445.4 L518.2,442.5 L518.9,441.4 L519.4,441.8 L519.9,442.8 L520.5,444.4 L521.1,446.5 L521.8,449.3 L522.4,452.6 L523.1,456.5 L523.7,460.6 L524.3,464.5 L524.9,467.9 L525.4,470.6 L525.9,472.6 L526.3,473.8 L527.3,474.9 L527.9,474.3 L528.5,472.7 L528.9,471.0 L529.3,470.3 L529.9,470.9 L530.3,472.1 L530.8,472.6 L531.3,472.2 L531.9,471.5 L532.6,470.8 L533.2,470.0 L533.8,469.2 L534.4,467.8 L535.0,465.7 L535.6,463.4 L536.2,461.5 L536.8,460.8 L537.4,461.9 L538.0,464.4 L538.6,467.5 L539.2,470.1 L539.8,471.2 L540.4,470.4 L541.0,468.3 L541.6,465.7 L542.2,463.4 L542.8,462.1 L543.4,461.9 L544.0,462.2 L544.6,462.7 L545.2,463.1 L545.8,463.3 L546.4,463.4 L547.0,463.6 L547.6,464.0 L548.2,464.6 L548.8,465.3 L549.4,465.8 L549.9,466.3 L550.5,466.8 L551.1,467.3 L551.8,468.1 L552.4,468.8 L553.0,469.6 L553.7,470.5 L554.4,471.3 L555.0,472.0 L555.7,472.7 L556.3,473.5 L557.0,474.9 L557.6,476.6 L558.1,477.9 L558.7,478.3 L559.3,477.2 L559.9,473.5 L560.5,467.7 L561.1,461.6 L561.6,457.0 L562.2,455.3 L562.8,457.7 L563.4,463.0 L563.9,469.2 L564.5,474.4 L565.2,476.8 L565.7,476.4 L566.3,475.1 L566.8,473.2 L567.4,471.2 L568.0,469.2 L568.6,467.3 L569.2,465.7 L569.7,464.8 L570.4,465.0 L571.0,466.5 L571.7,468.8 L572.3,471.8 L572.9,474.8 L573.6,477.0 L574.2,477.9 L574.8,477.2 L575.4,475.4 L576.0,472.9 L576.6,470.1 L577.2,467.4 L577.8,465.0 L578.3,463.1 L578.7,461.9 L579.5,461.0 L579.9,461.6 L580.2,462.2" fill="none" stroke="#5757c6" stroke-width="1.0" stroke-linejoin="round"/>
<rect x="430.50" y="426.50" width="150.00" height="71.00" fill="none" stroke="#363636" stroke-width="1.15"/>
<path d="M430.60,497.20v-2M430.60,426.80v2M460.52,497.20v-2M460.52,426.80v2M490.44,497.20v-2M490.44,426.80v2M520.36,497.20v-2M520.36,426.80v2M550.28,497.20v-2M550.28,426.80v2M580.20,497.20v-2M580.20,426.80v2M430.60,485.47h2M580.20,485.47h-2M430.60,462.00h2M580.20,462.00h-2M430.60,438.53h2M580.20,438.53h-2" stroke="#3a3a3a" stroke-width="1" fill="none"/>
<text class="tk" x="431.50" y="506.50" text-anchor="middle">0</text>
<text class="tk" x="461.42" y="506.50" text-anchor="middle">.2</text>
<text class="tk" x="491.34" y="506.50" text-anchor="middle">.4</text>
<text class="tk" x="521.26" y="506.50" text-anchor="middle">.6</text>
<text class="tk" x="551.18" y="506.50" text-anchor="middle">.8</text>
<text class="tk" x="581.10" y="506.50" text-anchor="middle">1</text>
<text class="tk" x="429.20" y="441.23" text-anchor="end">1</text>
<text class="tk" x="429.20" y="464.70" text-anchor="end">0</text>
<text class="tk" x="429.20" y="488.17" text-anchor="end">-1</text>
<text class="ttl" x="674.3" y="414.7" text-anchor="middle">d=0cm</text>
<clipPath id="c33"><rect x="591.60" y="427.40" width="150.30" height="70.60"/></clipPath>
<path clip-path="url(#c33)" d="M591.6,467.2 L592.0,467.6 L592.5,468.3 L593.1,469.4 L593.7,470.6 L594.4,471.8 L595.0,472.5 L595.6,472.7 L596.1,472.2 L596.8,468.6 L597.3,462.9 L597.8,458.0 L598.4,456.7 L598.9,459.9 L599.5,466.1 L600.1,473.1 L600.7,478.9 L601.4,481.7 L602.0,480.8 L602.6,477.9 L603.2,474.1 L603.9,470.3 L604.5,467.4 L605.1,466.2 L605.8,467.7 L606.3,471.2 L606.9,475.5 L607.4,479.4 L608.1,481.7 L608.6,481.9 L609.2,481.5 L609.8,480.3 L610.4,478.6 L611.0,476.5 L611.6,474.3 L612.1,472.5 L612.6,471.2 L613.3,470.0 L614.0,469.2 L614.5,468.6 L615.1,468.2 L615.6,467.9 L616.3,467.9 L616.9,468.3 L617.6,468.9 L618.1,469.5 L618.7,469.9 L619.2,469.6 L619.6,468.9 L620.2,468.8 L620.7,469.6 L621.3,471.0 L621.9,472.5 L622.5,473.7 L623.2,474.0 L623.8,472.6 L624.4,469.9 L625.0,466.5 L625.6,463.5 L626.2,461.9 L626.8,462.4 L627.4,464.5 L628.0,467.4 L628.6,470.0 L629.2,471.2 L629.8,470.2 L630.4,467.5 L631.0,464.1 L631.6,461.1 L632.2,459.7 L632.8,460.5 L633.4,463.1 L634.0,466.4 L634.6,469.1 L635.2,470.3 L635.8,469.1 L636.4,466.3 L637.0,462.9 L637.6,459.9 L638.2,458.1 L638.8,457.9 L639.5,458.6 L640.1,459.6 L640.7,460.5 L641.2,460.9 L641.8,460.4 L642.1,459.6 L642.7,459.6 L643.2,460.7 L643.8,462.4 L644.4,464.2 L645.1,465.6 L645.7,466.0 L646.3,465.2 L646.9,463.5 L647.5,461.6 L648.1,460.2 L648.7,459.9 L649.3,461.0 L649.8,463.2 L650.4,465.6 L651.0,467.5 L651.7,468.3 L652.3,467.8 L652.9,466.7 L653.6,465.2 L654.3,463.6 L655.0,461.9 L655.7,460.4 L656.2,459.5 L656.9,459.6 L657.5,460.9 L658.0,462.8 L658.6,464.3 L659.2,464.9 L659.8,464.4 L660.5,463.3 L661.1,461.8 L661.8,460.1 L662.5,458.4 L663.2,457.0 L663.7,455.8 L664.4,454.1 L665.1,451.8 L665.6,449.6 L666.2,448.0 L666.8,447.7 L667.4,448.9 L668.0,451.3 L668.6,454.7 L669.2,458.4 L669.8,462.1 L670.4,466.2 L671.0,471.1 L671.6,475.9 L672.2,479.8 L672.8,481.9 L673.3,481.9 L673.9,480.2 L674.5,477.3 L675.1,473.8 L675.8,470.0 L676.3,466.8 L677.0,462.8 L677.7,458.5 L678.4,454.5 L679.1,451.3 L679.7,449.1 L680.3,448.5 L681.0,450.6 L681.6,455.2 L682.2,461.0 L682.7,466.5 L683.3,470.2 L683.9,471.9 L684.4,472.6 L685.0,472.7 L685.6,472.7 L686.3,473.1 L686.8,473.6 L687.3,474.3 L687.9,475.0 L688.5,475.7 L689.2,476.2 L689.7,476.6 L690.3,476.8 L690.8,476.7 L691.5,475.6 L692.1,473.4 L692.7,470.9 L693.2,468.8 L693.8,467.8 L694.4,468.6 L695.0,470.8 L695.6,473.4 L696.2,475.3 L696.8,475.5 L697.4,472.8 L697.9,468.0 L698.5,462.6 L699.1,458.2 L699.8,456.4 L700.3,457.3 L700.9,459.5 L701.5,462.7 L702.1,466.2 L702.7,469.5 L703.3,472.1 L703.8,473.9 L704.3,474.4 L705.0,472.6 L705.6,468.7 L706.2,464.2 L706.8,460.5 L707.3,459.0 L707.9,460.2 L708.5,463.2 L709.0,466.9 L709.6,470.3 L710.3,472.2 L710.9,472.5 L711.6,472.2 L712.2,471.4 L712.9,470.1 L713.6,468.7 L714.3,467.5 L714.8,466.8 L715.5,467.0 L716.2,467.9 L716.7,469.1 L717.3,470.0 L717.9,470.2 L718.5,469.4 L719.1,468.0 L719.8,466.4 L720.4,465.3 L720.9,464.8 L721.4,466.0 L721.7,468.0 L722.4,469.0 L722.8,468.6 L723.3,467.7 L723.9,466.3 L724.5,464.7 L725.2,463.4 L725.8,462.6 L726.4,462.3 L726.9,462.7 L727.5,464.7 L728.1,468.1 L728.6,471.8 L729.2,474.9 L729.9,476.7 L730.5,476.8 L731.1,476.2 L731.8,475.2 L732.5,473.8 L733.2,472.2 L733.8,470.9 L734.4,470.4 L735.1,471.6 L735.6,474.2 L736.2,477.5 L736.7,480.4 L737.4,482.1 L737.9,482.1 L738.5,481.4 L739.2,480.0 L739.8,478.5 L740.5,477.0 L741.1,475.8 L741.5,474.9 L741.9,474.4" fill="none" stroke="#5757c6" stroke-width="1.0" stroke-linejoin="round"/>
<rect x="591.50" y="427.50" width="150.00" height="71.00" fill="none" stroke="#363636" stroke-width="1.15"/>
<path d="M591.60,498.00v-2M591.60,427.40v2M621.66,498.00v-2M621.66,427.40v2M651.72,498.00v-2M651.72,427.40v2M681.78,498.00v-2M681.78,427.40v2M711.84,498.00v-2M711.84,427.40v2M741.90,498.00v-2M741.90,427.40v2M591.60,486.23h2M741.90,486.23h-2M591.60,462.70h2M741.90,462.70h-2M591.60,439.17h2M741.90,439.17h-2" stroke="#3a3a3a" stroke-width="1" fill="none"/>
<text class="tk" x="592.50" y="507.30" text-anchor="middle">0</text>
<text class="tk" x="622.56" y="507.30" text-anchor="middle">.2</text>
<text class="tk" x="652.62" y="507.30" text-anchor="middle">.4</text>
<text class="tk" x="682.68" y="507.30" text-anchor="middle">.6</text>
<text class="tk" x="712.74" y="507.30" text-anchor="middle">.8</text>
<text class="tk" x="742.80" y="507.30" text-anchor="middle">1</text>
<text class="tk" x="590.20" y="441.87" text-anchor="end">1</text>
<text class="tk" x="590.20" y="465.40" text-anchor="end">0</text>
<text class="tk" x="590.20" y="488.93" text-anchor="end">-1</text>
<text x="1" y="551" textLength="324" lengthAdjust="spacingAndGlyphs" style="font-size:16.7px;word-spacing:0.2px;fill:#111">(b) Diagram of Experimental Procedure</text>
<g stroke="#2e7f96" stroke-width="1.6" fill="#4aacc6">
<ellipse cx="227.4" cy="701.4" rx="19.1" ry="10.2"/>
<ellipse cx="291.6" cy="699.8" rx="45.2" ry="10.2"/>
<ellipse cx="288" cy="700.7" rx="29" ry="4.8"/>
<ellipse cx="379.3" cy="700.3" rx="42.6" ry="5.6"/>
</g>
<ellipse cx="269.9" cy="698.8" rx="9.8" ry="2.7" fill="#f7943e" stroke="#e8802a" stroke-width="1"/>
<g stroke="#8395bb" stroke-width="1.2">
<line x1="346.0" y1="611.1" x2="584.5" y2="611.1"/>
<line x1="368.0" y1="634.5" x2="606.0" y2="634.5"/>
<line x1="377.0" y1="689.5" x2="615.4" y2="689.5"/>
<line x1="369.0" y1="745.0" x2="606.0" y2="745.0"/>
<line x1="346.5" y1="768.2" x2="584.5" y2="768.2"/>
</g>
<g stroke-width="1.3">
<line x1="269.9" y1="582.8" x2="421.4" y2="582.8" stroke="#a59fc3"/>
<line x1="269.9" y1="799.8" x2="421.4" y2="799.8" stroke="#a59fc3"/>
<line x1="269.90" y1="566.8" x2="269.90" y2="799.8" stroke="#a3a3cc"/>
<line x1="281.55" y1="582.8" x2="281.55" y2="799.8" stroke="#a59fc3"/>
<line x1="293.20" y1="582.8" x2="293.20" y2="799.8" stroke="#a59fc3"/>
<line x1="304.85" y1="582.8" x2="304.85" y2="799.8" stroke="#a59fc3"/>
<line x1="316.50" y1="582.8" x2="316.50" y2="799.8" stroke="#a59fc3"/>
<line x1="328.15" y1="582.8" x2="328.15" y2="799.8" stroke="#a59fc3"/>
<line x1="339.80" y1="582.8" x2="339.80" y2="799.8" stroke="#a59fc3"/>
<line x1="351.45" y1="582.8" x2="351.45" y2="799.8" stroke="#a59fc3"/>
<line x1="363.10" y1="582.8" x2="363.10" y2="799.8" stroke="#a59fc3"/>
<line x1="374.75" y1="582.8" x2="374.75" y2="799.8" stroke="#7f6f99"/>
<line x1="386.40" y1="582.8" x2="386.40" y2="799.8" stroke="#7f6f99"/>
<line x1="398.05" y1="582.8" x2="398.05" y2="799.8" stroke="#a59fc3"/>
<line x1="409.70" y1="582.8" x2="409.70" y2="799.8" stroke="#a59fc3"/>
<line x1="421.35" y1="566.8" x2="421.35" y2="799.8" stroke="#7d8fb8"/>
</g>
<line x1="456.6" y1="567" x2="456.6" y2="835.5" stroke="#7d8fb8" stroke-width="1.2"/>
<line x1="172.2" y1="669.3" x2="269.9" y2="669.3" stroke="#8395bb" stroke-width="1.2"/>
<ellipse cx="346.0" cy="689.6" rx="30.8" ry="78.5" fill="none" stroke="#3b5488" stroke-width="1.9"/>
<ellipse cx="584.5" cy="689.8" rx="30.9" ry="78.8" fill="none" stroke="#3d5888" stroke-width="1.9"/>
<rect x="202.0" y="712.5" width="293.6" height="14.8" fill="none" stroke="#c4504c" stroke-width="2.6"/>
<path d="M170.9,717.3 H194.3 V713.4 L202.4,721.1 L194.3,728.8 V724.9 H170.9 Z" fill="#4a76c0" stroke="#2f528f" stroke-width="1" stroke-linejoin="miter"/>
<path d="M496.6,718.3 H518.0 V714.0 L526.8,721.7 L518.0,729.4 V725.1 H496.6 Z" fill="#4a76c0" stroke="#2f528f" stroke-width="1" stroke-linejoin="miter"/>
<path d="M318.4,733.8 H341.2 V729.9 L349.2,737.3 L341.2,744.7 V740.8 H318.4 Z" fill="#4a76c0" stroke="#2f528f" stroke-width="1" stroke-linejoin="miter"/>
<polygon points="232.0,730.6 227.3,745.8 236.8,745.8" fill="#4a76c0" stroke="#2f528f" stroke-width="0.8"/>
<polygon points="580.3,595.3 589.5,595.3 584.8,610.4" fill="#4a76c0" stroke="#2f528f" stroke-width="0.8"/>
<polygon points="271.9,800.8 280.9,800.8 276.4,816.2" fill="#4a76c0" stroke="#2f528f" stroke-width="0.8"/>
<polygon points="304.4,800.8 313.4,800.8 308.9,816.2" fill="#4a76c0" stroke="#2f528f" stroke-width="0.8"/>
<polygon points="411.9,800.8 420.9,800.8 416.4,816.2" fill="#4a76c0" stroke="#2f528f" stroke-width="0.8"/>
<text x="319.4" y="574.9" textLength="57.0" lengthAdjust="spacingAndGlyphs" style="font-family:'Liberation Sans',Arial,sans-serif;font-size:12.2px;fill:#141414;stroke:#141414;stroke-width:0.15px;">N=150cm</text>
<text x="173.8" y="619.1" textLength="50.2" lengthAdjust="spacingAndGlyphs" style="font-family:'Liberation Sans',Arial,sans-serif;font-size:12.8px;fill:#141414;stroke:#141414;stroke-width:0.15px;">12-Lead</text>
<text x="185.6" y="637.5" textLength="26.0" lengthAdjust="spacingAndGlyphs" style="font-family:'Liberation Sans',Arial,sans-serif;font-size:12.8px;fill:#141414;stroke:#141414;stroke-width:0.15px;">ECG</text>
<text x="173.0" y="665.0" textLength="41.0" lengthAdjust="spacingAndGlyphs" style="font-family:'Liberation Sans',Arial,sans-serif;font-size:12.6px;fill:#141414;stroke:#141414;stroke-width:0.15px;">HEART</text>
<text x="547.2" y="589.9" textLength="73.8" lengthAdjust="spacingAndGlyphs" style="font-family:'Liberation Sans',Arial,sans-serif;font-size:12.2px;fill:#141414;stroke:#141414;stroke-width:0.15px;">MR Scanner</text>
<text x="206.6" y="763.2" textLength="49.5" lengthAdjust="spacingAndGlyphs" style="font-family:'Liberation Sans',Arial,sans-serif;font-size:12.6px;fill:#141414;stroke:#141414;stroke-width:0.15px;">Scanner</text>
<text x="216.0" y="781.7" textLength="31.8" lengthAdjust="spacingAndGlyphs" style="font-family:'Liberation Sans',Arial,sans-serif;font-size:12.6px;fill:#141414;stroke:#141414;stroke-width:0.15px;">Table</text>
<text x="421.6" y="852.5" textLength="69.4" lengthAdjust="spacingAndGlyphs" style="font-family:'Liberation Sans',Arial,sans-serif;font-size:13.4px;fill:#141414;stroke:#141414;stroke-width:0.15px;">ISOCENTER</text>
<text x="267.6" y="828.5" style="font-family:'Liberation Sans',Arial,sans-serif;font-size:9.2px;fill:#161616;stroke:#161616;stroke-width:0.2px">SP<tspan dy="2" style="font-size:7px">1</tspan></text>
<text x="300.0" y="828.5" style="font-family:'Liberation Sans',Arial,sans-serif;font-size:9.2px;fill:#161616;stroke:#161616;stroke-width:0.2px">SP<tspan dy="2" style="font-size:7px">4</tspan></text>
<text x="407.2" y="828.5" style="font-family:'Liberation Sans',Arial,sans-serif;font-size:9.2px;fill:#161616;stroke:#161616;stroke-width:0.2px">SP<tspan dy="2" style="font-size:7px">M</tspan></text>
<text x="287.8" y="828.6" textLength="8.6" lengthAdjust="spacingAndGlyphs" style="font-family:'Liberation Sans',Arial,sans-serif;font-size:11px;font-weight:bold;fill:#161616">...</text>
<text x="354.6" y="828.6" textLength="8.6" lengthAdjust="spacingAndGlyphs" style="font-family:'Liberation Sans',Arial,sans-serif;font-size:11px;font-weight:bold;fill:#161616">...</text>
</svg></body></html>
